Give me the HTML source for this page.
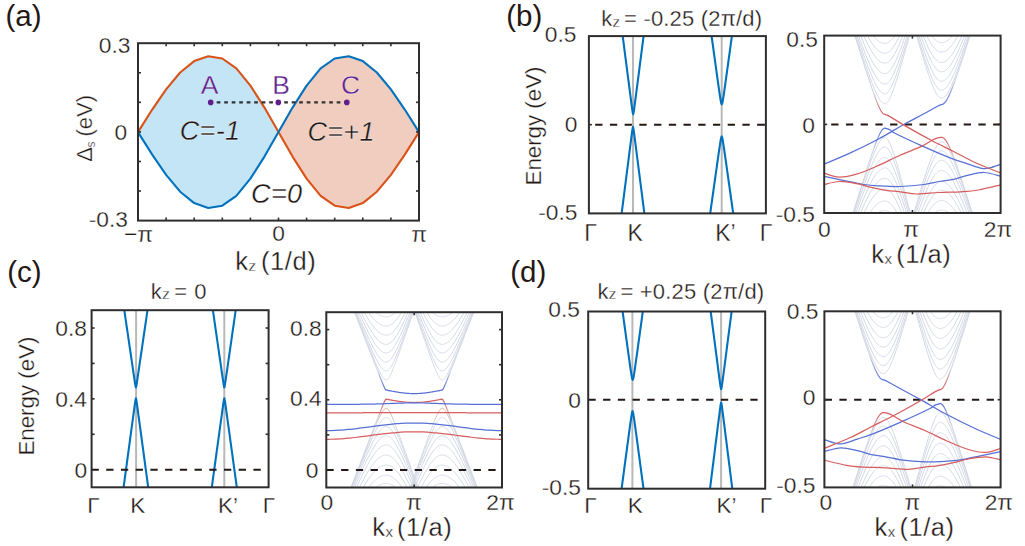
<!DOCTYPE html>
<html><head><meta charset="utf-8"><title>Figure</title>
<style>html,body{margin:0;padding:0;background:#fff;width:1025px;height:546px;overflow:hidden}svg{display:block}text{font-family:"Liberation Sans",sans-serif;stroke:#fff;stroke-width:0.3px}</style>
</head><body>
<svg width="1025" height="546" viewBox="0 0 1025 546">
<rect width="1025" height="546" fill="#fff"/>
<polygon points="138,132.1 152.05,109.8 166.1,89.4 180.15,72.5 194.2,61.1 208.25,56.2 222.3,58.5 236.35,68.4 250.4,85.6 264.45,107.6 278.5,132.1 278.5,132.1 264.45,156.6 250.4,178.6 236.35,195.8 222.3,205.7 208.25,208 194.2,203.1 180.15,191.7 166.1,174.8 152.05,154.4 138,132.1" fill="#C3E5F6"/>
<polygon points="278.5,132.1 292.55,107.6 306.6,85.6 320.65,68.4 334.7,58.5 348.75,56.2 362.8,61.1 376.85,72.5 390.9,89.4 404.95,109.8 419,132.1 419,132.1 404.95,154.4 390.9,174.8 376.85,191.7 362.8,203.1 348.75,208 334.7,205.7 320.65,195.8 306.6,178.6 292.55,156.6 278.5,132.1" fill="#F0CDBE"/>
<polyline points="138,132.1 152.05,109.8 166.1,89.4 180.15,72.5 194.2,61.1 208.25,56.2 222.3,58.5 236.35,68.4 250.4,85.6 264.45,107.6 278.5,132.1 292.55,156.6 306.6,178.6 320.65,195.8 334.7,205.7 348.75,208 362.8,203.1 376.85,191.7 390.9,174.8 404.95,154.4 419,132.1" fill="none" stroke="#D95319" stroke-width="2.1" stroke-linejoin="round"/>
<polyline points="138,132.1 152.05,154.4 166.1,174.8 180.15,191.7 194.2,203.1 208.25,208 222.3,205.7 236.35,195.8 250.4,178.6 264.45,156.6 278.5,132.1 292.55,107.6 306.6,85.6 320.65,68.4 334.7,58.5 348.75,56.2 362.8,61.1 376.85,72.5 390.9,89.4 404.95,109.8 419,132.1" fill="none" stroke="#0072BD" stroke-width="2.1" stroke-linejoin="round"/>
<line x1="138" y1="72.77" x2="141" y2="72.77" stroke="#2e2e2e" stroke-width="1.6" />
<line x1="419" y1="72.77" x2="416" y2="72.77" stroke="#2e2e2e" stroke-width="1.6" />
<line x1="138" y1="102.33" x2="141" y2="102.33" stroke="#2e2e2e" stroke-width="1.6" />
<line x1="419" y1="102.33" x2="416" y2="102.33" stroke="#2e2e2e" stroke-width="1.6" />
<line x1="138" y1="131.9" x2="141" y2="131.9" stroke="#2e2e2e" stroke-width="1.6" />
<line x1="419" y1="131.9" x2="416" y2="131.9" stroke="#2e2e2e" stroke-width="1.6" />
<line x1="138" y1="161.47" x2="141" y2="161.47" stroke="#2e2e2e" stroke-width="1.6" />
<line x1="419" y1="161.47" x2="416" y2="161.47" stroke="#2e2e2e" stroke-width="1.6" />
<line x1="138" y1="191.03" x2="141" y2="191.03" stroke="#2e2e2e" stroke-width="1.6" />
<line x1="419" y1="191.03" x2="416" y2="191.03" stroke="#2e2e2e" stroke-width="1.6" />
<line x1="166.1" y1="43.2" x2="166.1" y2="46.2" stroke="#2e2e2e" stroke-width="1.6" />
<line x1="166.1" y1="220.6" x2="166.1" y2="217.6" stroke="#2e2e2e" stroke-width="1.6" />
<line x1="194.2" y1="43.2" x2="194.2" y2="46.2" stroke="#2e2e2e" stroke-width="1.6" />
<line x1="194.2" y1="220.6" x2="194.2" y2="217.6" stroke="#2e2e2e" stroke-width="1.6" />
<line x1="222.3" y1="43.2" x2="222.3" y2="46.2" stroke="#2e2e2e" stroke-width="1.6" />
<line x1="222.3" y1="220.6" x2="222.3" y2="217.6" stroke="#2e2e2e" stroke-width="1.6" />
<line x1="250.4" y1="43.2" x2="250.4" y2="46.2" stroke="#2e2e2e" stroke-width="1.6" />
<line x1="250.4" y1="220.6" x2="250.4" y2="217.6" stroke="#2e2e2e" stroke-width="1.6" />
<line x1="278.5" y1="43.2" x2="278.5" y2="46.2" stroke="#2e2e2e" stroke-width="1.6" />
<line x1="278.5" y1="220.6" x2="278.5" y2="217.6" stroke="#2e2e2e" stroke-width="1.6" />
<line x1="306.6" y1="43.2" x2="306.6" y2="46.2" stroke="#2e2e2e" stroke-width="1.6" />
<line x1="306.6" y1="220.6" x2="306.6" y2="217.6" stroke="#2e2e2e" stroke-width="1.6" />
<line x1="334.7" y1="43.2" x2="334.7" y2="46.2" stroke="#2e2e2e" stroke-width="1.6" />
<line x1="334.7" y1="220.6" x2="334.7" y2="217.6" stroke="#2e2e2e" stroke-width="1.6" />
<line x1="362.8" y1="43.2" x2="362.8" y2="46.2" stroke="#2e2e2e" stroke-width="1.6" />
<line x1="362.8" y1="220.6" x2="362.8" y2="217.6" stroke="#2e2e2e" stroke-width="1.6" />
<line x1="390.9" y1="43.2" x2="390.9" y2="46.2" stroke="#2e2e2e" stroke-width="1.6" />
<line x1="390.9" y1="220.6" x2="390.9" y2="217.6" stroke="#2e2e2e" stroke-width="1.6" />
<rect x="138" y="43.2" width="281" height="177.4" fill="none" stroke="#2e2e2e" stroke-width="2.0"/>
<line x1="210.7" y1="102.4" x2="346.8" y2="102.4" stroke="#333" stroke-width="2.4" stroke-dasharray="3.7 3.8" stroke-dashoffset="-6"/>
<circle cx="210.7" cy="102.4" r="2.8" fill="#5F1E8C"/>
<circle cx="278.3" cy="102.4" r="2.8" fill="#5F1E8C"/>
<circle cx="346.8" cy="102.4" r="2.8" fill="#5F1E8C"/>
<text x="209.5" y="93.8" font-size="26.5" text-anchor="middle" fill="#5F1E8C" font-family="Liberation Sans" >A</text>
<text x="281.2" y="93.6" font-size="26.5" text-anchor="middle" fill="#5F1E8C" font-family="Liberation Sans" >B</text>
<text x="350.5" y="94" font-size="26.5" text-anchor="middle" fill="#5F1E8C" font-family="Liberation Sans" >C</text>
<text x="179.8" y="140" font-size="27" text-anchor="start" fill="#231815" font-family="Liberation Sans" font-style="italic" letter-spacing="0.3">C=-1</text>
<text x="307.5" y="141.2" font-size="27" text-anchor="start" fill="#231815" font-family="Liberation Sans" font-style="italic" letter-spacing="0.3">C=+1</text>
<text x="251.1" y="203.4" font-size="27" text-anchor="start" fill="#231815" font-family="Liberation Sans" font-style="italic" letter-spacing="0.3">C=0</text>
<text x="130.5" y="53.4" font-size="22.8" text-anchor="end" fill="#231815" font-family="Liberation Sans" >0.3</text>
<text x="127.3" y="140" font-size="22.8" text-anchor="end" fill="#231815" font-family="Liberation Sans" >0</text>
<text x="128" y="226.9" font-size="22.8" text-anchor="end" fill="#231815" font-family="Liberation Sans" >-0.3</text>
<text x="138.5" y="241.5" font-size="22.8" text-anchor="middle" fill="#231815" font-family="Liberation Sans" >&#8722;&#960;</text>
<text x="278.5" y="241.3" font-size="22.8" text-anchor="middle" fill="#231815" font-family="Liberation Sans" >0</text>
<text x="419" y="241.5" font-size="22.8" text-anchor="middle" fill="#231815" font-family="Liberation Sans" >&#960;</text>
<text x="235.2" y="270.4" font-size="25.5" letter-spacing="0.55" fill="#231815" font-family="Liberation Sans">k<tspan font-size="15" dy="1">z</tspan><tspan dy="-1" dx="4.5">(1/d)</tspan></text>
<text transform="translate(92.2,128.3) rotate(-90)" x="0" y="0" font-size="22" text-anchor="middle" fill="#231815" font-family="Liberation Sans">&#916;<tspan font-size="12" dy="3.2" dx="-0.5">s</tspan><tspan dy="-3.2" dx="5">(eV)</tspan></text>
<text x="5.5" y="26" font-size="29.5" text-anchor="start" fill="#231815" font-family="Liberation Sans" style="stroke:none">(a)</text>
<clipPath id="cbl"><rect x="588.9" y="36.1" width="177.0" height="177.3"/></clipPath>
<g clip-path="url(#cbl)">
<line x1="588.9" y1="124.7" x2="765.9" y2="124.7" stroke="#231815" stroke-width="2" stroke-dasharray="7.3 7.42" stroke-dashoffset="8.42"/>
<line x1="633" y1="36.1" x2="633" y2="213.4" stroke="#B8B8B8" stroke-width="2" />
<line x1="721.7" y1="36.1" x2="721.7" y2="213.4" stroke="#B8B8B8" stroke-width="2" />
<polyline points="622.7,36.1 623.22,40.15 623.75,44.2 624.27,48.25 624.79,52.3 625.31,56.34 625.83,60.39 626.36,64.44 626.88,68.48 627.4,72.52 627.92,76.57 628.45,80.61 628.97,84.64 629.49,88.68 630.01,92.7 630.54,96.72 631.06,100.72 631.58,104.68 632.11,108.56 632.63,112.16 633.15,114.2 633.67,112.16 634.19,108.56 634.72,104.68 635.24,100.72 635.76,96.72 636.28,92.7 636.81,88.68 637.33,84.64 637.85,80.61 638.38,76.57 638.9,72.52 639.42,68.48 639.94,64.44 640.46,60.39 640.99,56.34 641.51,52.3 642.03,48.25 642.55,44.2 643.08,40.15 643.6,36.1" fill="none" stroke="#0072BD" stroke-width="2.1" stroke-linejoin="round"/>
<polyline points="621.65,213.4 622.22,208.95 622.78,204.51 623.35,200.06 623.92,195.62 624.49,191.17 625.05,186.73 625.62,182.28 626.19,177.84 626.76,173.39 627.33,168.95 627.89,164.51 628.46,160.07 629.03,155.64 629.6,151.21 630.16,146.78 630.73,142.37 631.3,137.98 631.87,133.64 632.43,129.5 633,126.9 633.57,129.5 634.13,133.64 634.7,137.98 635.27,142.37 635.84,146.78 636.4,151.21 636.97,155.64 637.54,160.07 638.11,164.51 638.67,168.95 639.24,173.39 639.81,177.84 640.38,182.28 640.95,186.73 641.51,191.17 642.08,195.62 642.65,200.06 643.22,204.51 643.78,208.95 644.35,213.4" fill="none" stroke="#0072BD" stroke-width="2.1" stroke-linejoin="round"/>
<polyline points="711.6,36.1 712.11,39.79 712.62,43.47 713.12,47.15 713.63,50.83 714.14,54.51 714.64,58.18 715.15,61.85 715.66,65.52 716.17,69.18 716.67,72.84 717.18,76.48 717.69,80.11 718.2,83.73 718.71,87.32 719.21,90.86 719.72,94.34 720.23,97.69 720.74,100.78 721.24,103.25 721.75,104.3 722.26,103.25 722.76,100.78 723.27,97.69 723.78,94.34 724.29,90.86 724.79,87.32 725.3,83.73 725.81,80.11 726.32,76.48 726.83,72.84 727.33,69.18 727.84,65.52 728.35,61.85 728.86,58.18 729.36,54.51 729.87,50.83 730.38,47.15 730.88,43.47 731.39,39.79 731.9,36.1" fill="none" stroke="#0072BD" stroke-width="2.1" stroke-linejoin="round"/>
<polyline points="710.2,213.4 710.78,209.32 711.35,205.23 711.93,201.15 712.5,197.07 713.08,192.99 713.65,188.91 714.23,184.84 714.8,180.76 715.38,176.69 715.95,172.63 716.53,168.57 717.1,164.52 717.68,160.48 718.25,156.46 718.83,152.46 719.4,148.52 719.98,144.66 720.55,140.99 721.12,137.86 721.7,136.4 722.28,137.86 722.85,140.99 723.43,144.66 724,148.52 724.58,152.46 725.15,156.46 725.73,160.48 726.3,164.52 726.88,168.57 727.45,172.63 728.03,176.69 728.6,180.76 729.18,184.84 729.75,188.91 730.33,192.99 730.9,197.07 731.48,201.15 732.05,205.23 732.62,209.32 733.2,213.4" fill="none" stroke="#0072BD" stroke-width="2.1" stroke-linejoin="round"/>
</g>
<line x1="588.9" y1="124.7" x2="591.9" y2="124.7" stroke="#2e2e2e" stroke-width="1.6" />
<line x1="765.9" y1="124.7" x2="762.9" y2="124.7" stroke="#2e2e2e" stroke-width="1.6" />
<rect x="588.9" y="36.1" width="177" height="177.3" fill="none" stroke="#2e2e2e" stroke-width="2.0"/>
<text x="576.5" y="42" font-size="22.8" text-anchor="end" fill="#231815" font-family="Liberation Sans" >0.5</text>
<text x="577.5" y="132" font-size="22.8" text-anchor="end" fill="#231815" font-family="Liberation Sans" >0</text>
<text x="577.5" y="220.3" font-size="22.8" text-anchor="end" fill="#231815" font-family="Liberation Sans" >-0.5</text>
<text x="590.5" y="240.7" font-size="23" text-anchor="middle" fill="#231815" font-family="Liberation Sans" >&#915;</text>
<text x="635.2" y="240.7" font-size="23" text-anchor="middle" fill="#231815" font-family="Liberation Sans" >K</text>
<text x="725.5" y="240.7" font-size="23" text-anchor="middle" fill="#231815" font-family="Liberation Sans" >K&#8217;</text>
<text x="766" y="240.7" font-size="23" text-anchor="middle" fill="#231815" font-family="Liberation Sans" >&#915;</text>
<text x="601.2" y="26.2" font-size="22" letter-spacing="0.18" fill="#231815" font-family="Liberation Sans">k<tspan font-size="15" dy="0.5">z</tspan><tspan dy="-0.5" dx="4">= -0.25 (2&#960;/d)</tspan></text>
<text transform="translate(540.5,126) rotate(-90)" x="0" y="0" font-size="22.3" text-anchor="middle" fill="#231815" font-family="Liberation Sans">Energy (eV)</text>
<text x="506.2" y="26" font-size="29.5" text-anchor="start" fill="#231815" font-family="Liberation Sans" style="stroke:none">(b)</text>
<clipPath id="cbr"><rect x="824.2" y="35.6" width="176.39999999999998" height="177.4"/></clipPath>
<g clip-path="url(#cbr)">
<polyline points="855.72,35.6 857.97,42.5 860.06,48.83 862,54.64 863.79,59.96 865.46,64.83 867,69.28 868.44,73.33 869.77,77.02 871.01,80.37 872.17,83.41 873.25,86.15 874.26,88.62 875.2,90.84 876.08,92.82 876.91,94.59 877.69,96.15 878.43,97.53 879.13,98.74 879.79,99.79 880.42,100.69 881.03,101.46 881.61,102.11 882.17,102.64 882.72,103.07 883.25,103.39 883.77,103.62 884.29,103.76 884.8,103.8 885.24,103.76 885.68,103.62 886.12,103.39 886.57,103.07 887.04,102.64 887.51,102.11 888.01,101.46 888.52,100.69 889.06,99.79 889.62,98.74 890.21,97.53 890.84,96.15 891.5,94.59 892.21,92.82 892.96,90.84 893.76,88.62 894.62,86.15 895.53,83.41 896.52,80.37 897.57,77.02 898.71,73.33 899.93,69.28 901.24,64.83 902.66,59.96 904.18,54.64 905.83,48.83 907.61,42.5 909.52,35.6" fill="none" stroke="#D3D8E5" stroke-width="1.0" stroke-linejoin="round"/>
<polyline points="856.91,35.6 859.08,41.92 861.08,47.69 862.93,52.94 864.66,57.71 866.25,62.03 867.73,65.94 869.11,69.47 870.39,72.64 871.58,75.49 872.69,78.03 873.73,80.29 874.69,82.3 875.6,84.08 876.44,85.65 877.24,87.02 877.99,88.22 878.69,89.26 879.36,90.16 880,90.94 880.6,91.6 881.18,92.15 881.74,92.61 882.28,92.99 882.8,93.29 883.31,93.52 883.81,93.67 884.31,93.77 884.8,93.8 885.22,93.77 885.64,93.67 886.07,93.52 886.5,93.29 886.94,92.99 887.4,92.61 887.87,92.15 888.37,91.6 888.88,90.94 889.42,90.16 889.99,89.26 890.59,88.22 891.23,87.02 891.9,85.65 892.62,84.08 893.39,82.3 894.21,80.29 895.09,78.03 896.03,75.49 897.05,72.64 898.13,69.47 899.31,65.94 900.57,62.03 901.92,57.71 903.39,52.94 904.96,47.69 906.67,41.92 908.5,35.6" fill="none" stroke="#D3D8E5" stroke-width="1.0" stroke-linejoin="round"/>
<polyline points="858.47,35.6 860.51,41.21 862.4,46.29 864.16,50.88 865.78,55.01 867.29,58.71 868.69,62.03 869.99,64.98 871.2,67.61 872.32,69.94 873.37,72 874.35,73.82 875.26,75.41 876.11,76.8 876.91,78.01 877.66,79.07 878.37,79.98 879.04,80.76 879.67,81.44 880.27,82.01 880.84,82.5 881.38,82.9 881.91,83.24 882.42,83.52 882.91,83.73 883.39,83.9 883.87,84.01 884.34,84.08 884.8,84.1 885.19,84.08 885.59,84.01 885.99,83.9 886.4,83.73 886.82,83.52 887.26,83.24 887.7,82.9 888.17,82.5 888.65,82.01 889.16,81.44 889.7,80.76 890.27,79.98 890.87,79.07 891.51,78.01 892.19,76.8 892.91,75.41 893.69,73.82 894.52,72 895.41,69.94 896.36,67.61 897.39,64.98 898.49,62.03 899.68,58.71 900.97,55.01 902.35,50.88 903.84,46.29 905.44,41.21 907.18,35.6" fill="none" stroke="#D3D8E5" stroke-width="1.0" stroke-linejoin="round"/>
<polyline points="860.67,35.6 862.54,40.29 864.27,44.5 865.88,48.26 867.37,51.6 868.75,54.57 870.03,57.2 871.22,59.51 872.33,61.55 873.36,63.34 874.32,64.9 875.22,66.26 876.05,67.45 876.83,68.47 877.57,69.36 878.26,70.12 878.9,70.78 879.52,71.35 880.09,71.83 880.64,72.23 881.17,72.58 881.67,72.86 882.15,73.1 882.62,73.29 883.07,73.44 883.51,73.56 883.95,73.64 884.37,73.68 884.8,73.7 885.16,73.68 885.53,73.64 885.89,73.56 886.27,73.44 886.66,73.29 887.05,73.1 887.46,72.86 887.89,72.58 888.33,72.23 888.8,71.83 889.29,71.35 889.81,70.78 890.36,70.12 890.95,69.36 891.57,68.47 892.24,67.45 892.95,66.26 893.71,64.9 894.52,63.34 895.4,61.55 896.34,59.51 897.35,57.2 898.44,54.57 899.62,51.6 900.89,48.26 902.25,44.5 903.72,40.29 905.31,35.6" fill="none" stroke="#D3D8E5" stroke-width="1.0" stroke-linejoin="round"/>
<polyline points="863.63,35.6 865.27,39.19 866.79,42.37 868.2,45.18 869.5,47.66 870.72,49.82 871.84,51.72 872.89,53.38 873.86,54.82 874.76,56.08 875.61,57.16 876.39,58.1 877.13,58.91 877.81,59.61 878.45,60.21 879.06,60.73 879.63,61.17 880.16,61.54 880.67,61.86 881.15,62.13 881.61,62.36 882.05,62.55 882.48,62.71 882.89,62.83 883.28,62.93 883.67,63.01 884.05,63.06 884.43,63.09 884.8,63.1 885.12,63.09 885.44,63.06 885.76,63.01 886.09,62.93 886.43,62.83 886.77,62.71 887.13,62.55 887.51,62.36 887.9,62.13 888.31,61.86 888.74,61.54 889.2,61.17 889.68,60.73 890.19,60.21 890.74,59.61 891.32,58.91 891.95,58.1 892.61,57.16 893.33,56.08 894.1,54.82 894.93,53.38 895.81,51.72 896.77,49.82 897.8,47.66 898.91,45.18 900.11,42.37 901.4,39.19 902.8,35.6" fill="none" stroke="#D3D8E5" stroke-width="1.0" stroke-linejoin="round"/>
<polyline points="867.37,35.6 868.73,38.02 869.98,40.14 871.14,41.98 872.21,43.59 873.21,44.99 874.14,46.2 875,47.24 875.8,48.15 876.54,48.93 877.23,49.6 877.88,50.18 878.48,50.68 879.05,51.1 879.58,51.47 880.08,51.78 880.54,52.04 880.98,52.27 881.4,52.46 881.8,52.62 882.18,52.76 882.54,52.87 882.89,52.97 883.22,53.04 883.55,53.1 883.87,53.14 884.18,53.18 884.49,53.19 884.8,53.2 885.06,53.19 885.32,53.18 885.59,53.14 885.86,53.1 886.14,53.04 886.43,52.97 886.72,52.87 887.03,52.76 887.35,52.62 887.69,52.46 888.04,52.27 888.42,52.04 888.82,51.78 889.24,51.47 889.69,51.1 890.17,50.68 890.68,50.18 891.23,49.6 891.82,48.93 892.45,48.15 893.13,47.24 893.86,46.2 894.65,44.99 895.5,43.59 896.41,41.98 897.4,40.14 898.46,38.02 899.61,35.6" fill="none" stroke="#D3D8E5" stroke-width="1.0" stroke-linejoin="round"/>
<polyline points="872.89,35.6 873.81,36.72 874.67,37.69 875.46,38.53 876.19,39.25 876.88,39.87 877.51,40.4 878.1,40.86 878.65,41.25 879.15,41.59 879.63,41.88 880.07,42.13 880.48,42.34 880.87,42.52 881.23,42.67 881.57,42.8 881.89,42.92 882.19,43.01 882.48,43.09 882.75,43.16 883.01,43.22 883.25,43.26 883.49,43.3 883.72,43.33 883.95,43.36 884.16,43.38 884.38,43.39 884.59,43.4 884.8,43.4 884.98,43.4 885.16,43.39 885.34,43.38 885.53,43.36 885.72,43.33 885.91,43.3 886.11,43.26 886.32,43.22 886.54,43.16 886.77,43.09 887.02,43.01 887.27,42.92 887.55,42.8 887.83,42.67 888.14,42.52 888.47,42.34 888.82,42.13 889.2,41.88 889.6,41.59 890.03,41.25 890.5,40.86 891,40.4 891.53,39.87 892.11,39.25 892.74,38.53 893.41,37.69 894.14,36.72 894.93,35.6" fill="none" stroke="#D3D8E5" stroke-width="1.0" stroke-linejoin="round"/>
<polyline points="916.58,35.6 918.51,42.2 920.3,48.24 921.96,53.76 923.5,58.79 924.92,63.37 926.25,67.54 927.48,71.31 928.62,74.72 929.69,77.8 930.68,80.57 931.6,83.05 932.47,85.26 933.27,87.24 934.03,88.98 934.74,90.52 935.41,91.88 936.04,93.06 936.64,94.09 937.21,94.98 937.75,95.74 938.27,96.38 938.77,96.92 939.25,97.35 939.71,97.7 940.17,97.97 940.62,98.15 941.06,98.26 941.5,98.3 941.99,98.26 942.48,98.15 942.98,97.97 943.49,97.7 944.01,97.35 944.55,96.92 945.1,96.38 945.68,95.74 946.28,94.98 946.92,94.09 947.58,93.06 948.29,91.88 949.03,90.52 949.83,88.98 950.67,87.24 951.57,85.26 952.53,83.05 953.56,80.57 954.67,77.8 955.86,74.72 957.13,71.31 958.5,67.54 959.98,63.37 961.57,58.79 963.29,53.76 965.14,48.24 967.13,42.2 969.29,35.6" fill="none" stroke="#D3D8E5" stroke-width="1.0" stroke-linejoin="round"/>
<polyline points="917.54,35.6 919.4,41.68 921.12,47.22 922.71,52.24 924.19,56.79 925.56,60.9 926.84,64.6 928.02,67.93 929.12,70.91 930.14,73.57 931.1,75.93 931.99,78.03 932.82,79.89 933.59,81.52 934.32,82.95 935,84.21 935.65,85.29 936.25,86.24 936.83,87.05 937.37,87.75 937.89,88.34 938.39,88.83 938.87,89.25 939.33,89.58 939.78,89.85 940.22,90.05 940.65,90.19 941.08,90.27 941.5,90.3 941.97,90.27 942.45,90.19 942.93,90.05 943.41,89.85 943.92,89.58 944.43,89.25 944.96,88.83 945.52,88.34 946.1,87.75 946.71,87.05 947.35,86.24 948.03,85.29 948.74,84.21 949.5,82.95 950.32,81.52 951.18,79.89 952.11,78.03 953.1,75.93 954.16,73.57 955.3,70.91 956.53,67.93 957.85,64.6 959.27,60.9 960.79,56.79 962.44,52.24 964.22,47.22 966.14,41.68 968.21,35.6" fill="none" stroke="#D3D8E5" stroke-width="1.0" stroke-linejoin="round"/>
<polyline points="918.92,35.6 920.67,40.98 922.29,45.84 923.8,50.21 925.19,54.14 926.48,57.65 927.68,60.78 928.8,63.57 929.83,66.04 930.8,68.23 931.7,70.15 932.53,71.84 933.32,73.31 934.05,74.6 934.73,75.72 935.38,76.69 935.98,77.53 936.56,78.25 937.1,78.87 937.61,79.4 938.1,79.84 938.57,80.21 939.02,80.52 939.46,80.77 939.88,80.97 940.29,81.11 940.7,81.22 941.1,81.28 941.5,81.3 941.94,81.28 942.39,81.22 942.84,81.11 943.3,80.97 943.78,80.77 944.26,80.52 944.77,80.21 945.29,79.84 945.83,79.4 946.41,78.87 947.01,78.25 947.65,77.53 948.33,76.69 949.04,75.72 949.81,74.6 950.62,73.31 951.5,71.84 952.43,70.15 953.43,68.23 954.51,66.04 955.66,63.57 956.9,60.78 958.24,57.65 959.68,54.14 961.24,50.21 962.91,45.84 964.72,40.98 966.67,35.6" fill="none" stroke="#D3D8E5" stroke-width="1.0" stroke-linejoin="round"/>
<polyline points="920.79,35.6 922.39,40.11 923.88,44.14 925.26,47.73 926.54,50.93 927.72,53.76 928.82,56.25 929.85,58.45 930.8,60.38 931.68,62.07 932.51,63.55 933.27,64.83 933.99,65.94 934.66,66.91 935.29,67.74 935.88,68.46 936.44,69.07 936.96,69.6 937.46,70.05 937.93,70.43 938.38,70.75 938.81,71.02 939.23,71.24 939.63,71.42 940.02,71.56 940.39,71.67 940.77,71.74 941.13,71.79 941.5,71.8 941.91,71.79 942.32,71.74 942.73,71.67 943.16,71.56 943.59,71.42 944.03,71.24 944.5,71.02 944.98,70.75 945.48,70.43 946,70.05 946.56,69.6 947.14,69.07 947.76,68.46 948.42,67.74 949.12,66.91 949.87,65.94 950.67,64.83 951.53,63.55 952.45,62.07 953.43,60.38 954.49,58.45 955.63,56.25 956.86,53.76 958.18,50.93 959.61,47.73 961.14,44.14 962.8,40.11 964.59,35.6" fill="none" stroke="#D3D8E5" stroke-width="1.0" stroke-linejoin="round"/>
<polyline points="923.14,35.6 924.56,39.13 925.88,42.25 927.1,45 928.23,47.42 929.29,49.54 930.26,51.4 931.17,53.02 932.01,54.43 932.8,55.65 933.53,56.71 934.21,57.63 934.84,58.42 935.44,59.1 936,59.69 936.52,60.19 937.01,60.62 937.48,60.98 937.92,61.3 938.34,61.56 938.74,61.78 939.12,61.96 939.48,62.12 939.84,62.24 940.18,62.34 940.52,62.41 940.85,62.46 941.18,62.49 941.5,62.5 941.86,62.49 942.22,62.46 942.59,62.41 942.97,62.34 943.35,62.24 943.75,62.12 944.16,61.96 944.58,61.78 945.03,61.56 945.49,61.3 945.98,60.98 946.5,60.62 947.05,60.19 947.63,59.69 948.26,59.1 948.92,58.42 949.63,57.63 950.39,56.71 951.2,55.65 952.08,54.43 953.02,53.02 954.03,51.4 955.12,49.54 956.29,47.42 957.55,45 958.91,42.25 960.39,39.13 961.97,35.6" fill="none" stroke="#D3D8E5" stroke-width="1.0" stroke-linejoin="round"/>
<polyline points="926.69,35.6 927.83,37.88 928.9,39.87 929.88,41.61 930.8,43.12 931.65,44.43 932.43,45.56 933.17,46.54 933.85,47.39 934.48,48.12 935.07,48.75 935.62,49.29 936.13,49.75 936.61,50.15 937.06,50.49 937.48,50.78 937.88,51.02 938.26,51.23 938.61,51.41 938.95,51.56 939.27,51.69 939.58,51.8 939.87,51.88 940.16,51.95 940.44,52.01 940.71,52.05 940.98,52.08 941.24,52.09 941.5,52.1 941.79,52.09 942.08,52.08 942.38,52.05 942.68,52.01 942.99,51.95 943.31,51.88 943.64,51.8 943.99,51.69 944.34,51.56 944.72,51.41 945.12,51.23 945.53,51.02 945.98,50.78 946.45,50.49 946.95,50.15 947.49,49.75 948.06,49.29 948.67,48.75 949.33,48.12 950.03,47.39 950.79,46.54 951.61,45.56 952.48,44.43 953.43,43.12 954.45,41.61 955.55,39.87 956.73,37.88 958.01,35.6" fill="none" stroke="#D3D8E5" stroke-width="1.0" stroke-linejoin="round"/>
<polyline points="931.6,35.6 932.37,36.61 933.08,37.48 933.74,38.24 934.35,38.88 934.92,39.44 935.44,39.92 935.93,40.33 936.39,40.68 936.81,40.98 937.2,41.24 937.57,41.46 937.91,41.65 938.23,41.81 938.53,41.95 938.82,42.07 939.08,42.17 939.33,42.25 939.57,42.32 939.8,42.38 940.01,42.44 940.22,42.48 940.41,42.51 940.6,42.54 940.79,42.56 940.97,42.58 941.15,42.59 941.33,42.6 941.5,42.6 941.69,42.6 941.89,42.59 942.09,42.58 942.29,42.56 942.5,42.54 942.71,42.51 942.93,42.48 943.16,42.44 943.4,42.38 943.65,42.32 943.92,42.25 944.2,42.17 944.49,42.07 944.81,41.95 945.14,41.81 945.5,41.65 945.88,41.46 946.29,41.24 946.73,40.98 947.2,40.68 947.71,40.33 948.25,39.92 948.84,39.44 949.47,38.88 950.15,38.24 950.89,37.48 951.68,36.61 952.54,35.6" fill="none" stroke="#D3D8E5" stroke-width="1.0" stroke-linejoin="round"/>
<polyline points="853.42,213 855.85,205.46 858.1,198.53 860.19,192.17 862.13,186.33 863.93,180.98 865.6,176.09 867.14,171.62 868.59,167.54 869.93,163.83 871.17,160.46 872.34,157.4 873.43,154.64 874.44,152.16 875.4,149.93 876.29,147.94 877.13,146.17 877.93,144.61 878.68,143.23 879.4,142.03 880.08,140.99 880.73,140.11 881.36,139.36 881.96,138.74 882.55,138.25 883.12,137.87 883.69,137.61 884.25,137.45 884.8,137.4 885.25,137.45 885.7,137.61 886.16,137.87 886.63,138.25 887.11,138.74 887.6,139.36 888.11,140.11 888.64,140.99 889.19,142.03 889.77,143.23 890.38,144.61 891.03,146.17 891.71,147.94 892.44,149.93 893.22,152.16 894.04,154.64 894.93,157.4 895.87,160.46 896.89,163.83 897.97,167.54 899.14,171.62 900.4,176.09 901.76,180.98 903.22,186.33 904.79,192.17 906.49,198.53 908.32,205.46 910.3,213" fill="none" stroke="#D3D8E5" stroke-width="1.0" stroke-linejoin="round"/>
<polyline points="854.47,213 856.82,205.98 859,199.56 861.02,193.7 862.89,188.36 864.63,183.51 866.24,179.11 867.74,175.13 869.13,171.53 870.43,168.29 871.63,165.39 872.76,162.79 873.81,160.48 874.79,158.42 875.71,156.61 876.58,155.01 877.39,153.6 878.16,152.38 878.89,151.32 879.58,150.41 880.24,149.63 880.87,148.97 881.47,148.42 882.06,147.97 882.63,147.61 883.18,147.34 883.73,147.15 884.26,147.04 884.8,147 885.23,147.04 885.67,147.15 886.12,147.34 886.57,147.61 887.03,147.97 887.5,148.42 888,148.97 888.51,149.63 889.04,150.41 889.6,151.32 890.2,152.38 890.82,153.6 891.48,155.01 892.18,156.61 892.93,158.42 893.73,160.48 894.58,162.79 895.5,165.39 896.48,168.29 897.53,171.53 898.66,175.13 899.88,179.11 901.19,183.51 902.6,188.36 904.12,193.7 905.76,199.56 907.53,205.98 909.44,213" fill="none" stroke="#D3D8E5" stroke-width="1.0" stroke-linejoin="round"/>
<polyline points="856,213 858.23,206.69 860.3,200.96 862.22,195.78 863.99,191.1 865.64,186.88 867.17,183.1 868.6,179.71 869.92,176.69 871.15,174 872.29,171.61 873.36,169.51 874.36,167.65 875.29,166.03 876.17,164.61 876.99,163.37 877.76,162.29 878.49,161.37 879.18,160.57 879.84,159.89 880.47,159.31 881.06,158.83 881.64,158.42 882.2,158.1 882.74,157.84 883.26,157.64 883.78,157.51 884.29,157.43 884.8,157.4 885.21,157.43 885.63,157.51 886.05,157.64 886.48,157.84 886.92,158.1 887.37,158.42 887.84,158.83 888.32,159.31 888.83,159.89 889.36,160.57 889.92,161.37 890.52,162.29 891.15,163.37 891.81,164.61 892.52,166.03 893.28,167.65 894.09,169.51 894.96,171.61 895.89,174 896.89,176.69 897.97,179.71 899.12,183.1 900.36,186.88 901.7,191.1 903.15,195.78 904.71,200.96 906.39,206.69 908.2,213" fill="none" stroke="#D3D8E5" stroke-width="1.0" stroke-linejoin="round"/>
<polyline points="858.01,213 860.09,207.56 862.01,202.67 863.79,198.29 865.45,194.37 866.98,190.87 868.41,187.77 869.73,185.02 870.96,182.6 872.1,180.46 873.17,178.59 874.16,176.95 875.09,175.52 875.96,174.28 876.77,173.21 877.54,172.28 878.25,171.47 878.93,170.79 879.58,170.2 880.19,169.7 880.77,169.28 881.32,168.93 881.86,168.64 882.38,168.4 882.88,168.22 883.37,168.08 883.85,167.98 884.33,167.92 884.8,167.9 885.18,167.92 885.57,167.98 885.96,168.08 886.36,168.22 886.77,168.4 887.19,168.64 887.62,168.93 888.08,169.28 888.55,169.7 889.04,170.2 889.57,170.79 890.12,171.47 890.7,172.28 891.32,173.21 891.98,174.28 892.69,175.52 893.44,176.95 894.25,178.59 895.12,180.46 896.05,182.6 897.05,185.02 898.12,187.77 899.28,190.87 900.52,194.37 901.87,198.29 903.32,202.67 904.88,207.56 906.57,213" fill="none" stroke="#D3D8E5" stroke-width="1.0" stroke-linejoin="round"/>
<polyline points="860.58,213 862.46,208.58 864.2,204.64 865.81,201.15 867.31,198.06 868.69,195.34 869.98,192.94 871.18,190.84 872.29,189 873.32,187.4 874.29,186.01 875.18,184.8 876.02,183.75 876.81,182.85 877.54,182.07 878.23,181.4 878.88,180.83 879.5,180.34 880.08,179.92 880.63,179.57 881.16,179.27 881.66,179.02 882.14,178.82 882.61,178.65 883.06,178.52 883.51,178.42 883.94,178.35 884.37,178.31 884.8,178.3 885.15,178.31 885.5,178.35 885.85,178.42 886.21,178.52 886.58,178.65 886.96,178.82 887.35,179.02 887.76,179.27 888.19,179.57 888.64,179.92 889.11,180.34 889.61,180.83 890.13,181.4 890.7,182.07 891.29,182.85 891.93,183.75 892.61,184.8 893.34,186.01 894.13,187.4 894.97,189 895.87,190.84 896.84,192.94 897.89,195.34 899.01,198.06 900.23,201.15 901.54,204.64 902.95,208.58 904.48,213" fill="none" stroke="#D3D8E5" stroke-width="1.0" stroke-linejoin="round"/>
<polyline points="863.99,213 865.6,209.75 867.1,206.9 868.48,204.39 869.77,202.19 870.96,200.28 872.07,198.61 873.09,197.16 874.05,195.9 874.94,194.82 875.76,193.88 876.54,193.07 877.26,192.37 877.93,191.77 878.56,191.26 879.16,190.82 879.72,190.44 880.24,190.12 880.74,189.85 881.22,189.62 881.67,189.43 882.1,189.27 882.52,189.13 882.92,189.03 883.31,188.94 883.69,188.88 884.06,188.83 884.43,188.81 884.8,188.8 885.1,188.81 885.4,188.83 885.7,188.88 886.01,188.94 886.33,189.03 886.66,189.13 886.99,189.27 887.34,189.43 887.71,189.62 888.1,189.85 888.5,190.12 888.93,190.44 889.38,190.82 889.87,191.26 890.38,191.77 890.93,192.37 891.51,193.07 892.14,193.88 892.81,194.82 893.54,195.9 894.31,197.16 895.15,198.61 896.05,200.28 897.01,202.19 898.06,204.39 899.18,206.9 900.4,209.75 901.71,213" fill="none" stroke="#D3D8E5" stroke-width="1.0" stroke-linejoin="round"/>
<polyline points="869.68,213 870.85,211.3 871.94,209.82 872.95,208.54 873.88,207.44 874.74,206.49 875.55,205.66 876.29,204.96 876.99,204.35 877.63,203.82 878.24,203.38 878.8,202.99 879.32,202.66 879.81,202.38 880.27,202.14 880.7,201.93 881.11,201.76 881.49,201.61 881.85,201.48 882.2,201.38 882.52,201.29 882.84,201.21 883.14,201.15 883.43,201.1 883.72,201.07 883.99,201.04 884.26,201.02 884.53,201 884.8,201 885.02,201 885.23,201.02 885.46,201.04 885.68,201.07 885.91,201.1 886.15,201.15 886.39,201.21 886.65,201.29 886.92,201.38 887.2,201.48 887.49,201.61 887.8,201.76 888.13,201.93 888.48,202.14 888.85,202.38 889.25,202.66 889.68,202.99 890.13,203.38 890.62,203.82 891.15,204.35 891.71,204.96 892.32,205.66 892.97,206.49 893.67,207.44 894.43,208.54 895.25,209.82 896.13,211.3 897.08,213" fill="none" stroke="#D3D8E5" stroke-width="1.0" stroke-linejoin="round"/>
<polyline points="877.74,213 878.29,212.63 878.79,212.31 879.26,212.04 879.7,211.81 880.1,211.61 880.48,211.44 880.83,211.3 881.15,211.17 881.45,211.07 881.73,210.98 882,210.9 882.24,210.83 882.47,210.78 882.68,210.73 882.89,210.69 883.07,210.65 883.25,210.62 883.42,210.6 883.58,210.58 883.74,210.56 883.88,210.54 884.03,210.53 884.16,210.52 884.29,210.51 884.42,210.51 884.55,210.5 884.68,210.5 884.8,210.5 884.9,210.5 885,210.5 885.11,210.51 885.21,210.51 885.32,210.52 885.43,210.53 885.54,210.54 885.66,210.56 885.79,210.58 885.92,210.6 886.06,210.62 886.2,210.65 886.36,210.69 886.52,210.73 886.69,210.78 886.88,210.83 887.08,210.9 887.29,210.98 887.52,211.07 887.76,211.17 888.03,211.3 888.31,211.44 888.62,211.61 888.94,211.81 889.3,212.04 889.68,212.31 890.09,212.63 890.54,213" fill="none" stroke="#D3D8E5" stroke-width="1.0" stroke-linejoin="round"/>
<polyline points="913.9,213 916.04,205.69 918.02,198.99 919.86,192.86 921.56,187.24 923.14,182.12 924.61,177.45 925.97,173.2 927.24,169.35 928.42,165.86 929.51,162.71 930.54,159.87 931.49,157.33 932.39,155.05 933.23,153.03 934.02,151.23 934.76,149.64 935.46,148.25 936.12,147.04 936.75,145.98 937.35,145.08 937.92,144.31 938.47,143.67 939,143.14 939.52,142.72 940.03,142.4 940.52,142.18 941.01,142.04 941.5,142 942.03,142.04 942.57,142.18 943.11,142.4 943.66,142.72 944.23,143.14 944.81,143.67 945.41,144.31 946.04,145.08 946.7,145.98 947.38,147.04 948.11,148.25 948.87,149.64 949.68,151.23 950.54,153.03 951.46,155.05 952.44,157.33 953.48,159.87 954.6,162.71 955.8,165.86 957.09,169.35 958.48,173.2 959.97,177.45 961.57,182.12 963.3,187.24 965.16,192.86 967.17,198.99 969.34,205.69 971.67,213" fill="none" stroke="#D3D8E5" stroke-width="1.0" stroke-linejoin="round"/>
<polyline points="914.88,213 916.94,206.22 918.85,200.04 920.62,194.41 922.27,189.3 923.79,184.67 925.21,180.49 926.52,176.71 927.74,173.32 928.88,170.28 929.94,167.57 930.93,165.16 931.85,163.01 932.71,161.12 933.52,159.45 934.28,157.99 935,156.72 935.67,155.61 936.31,154.65 936.91,153.83 937.49,153.13 938.05,152.55 938.58,152.06 939.09,151.66 939.59,151.34 940.08,151.1 940.56,150.93 941.03,150.83 941.5,150.8 942.01,150.83 942.53,150.93 943.05,151.1 943.59,151.34 944.13,151.66 944.69,152.06 945.28,152.55 945.88,153.13 946.51,153.83 947.17,154.65 947.87,155.61 948.61,156.72 949.39,157.99 950.22,159.45 951.11,161.12 952.05,163.01 953.06,165.16 954.14,167.57 955.29,170.28 956.54,173.32 957.87,176.71 959.31,180.49 960.86,184.67 962.52,189.3 964.32,194.41 966.26,200.04 968.35,206.22 970.6,213" fill="none" stroke="#D3D8E5" stroke-width="1.0" stroke-linejoin="round"/>
<polyline points="916.23,213 918.19,206.91 920.01,201.4 921.69,196.43 923.25,191.95 924.7,187.93 926.04,184.33 927.29,181.11 928.45,178.26 929.52,175.72 930.53,173.48 931.47,171.51 932.34,169.77 933.16,168.26 933.93,166.94 934.65,165.79 935.33,164.8 935.97,163.94 936.57,163.2 937.15,162.58 937.7,162.05 938.22,161.6 938.73,161.24 939.22,160.94 939.69,160.7 940.15,160.52 940.61,160.4 941.05,160.32 941.5,160.3 941.99,160.32 942.48,160.4 942.97,160.52 943.48,160.7 944,160.94 944.53,161.24 945.08,161.6 945.66,162.05 946.26,162.58 946.89,163.2 947.55,163.94 948.25,164.8 948.99,165.79 949.78,166.94 950.62,168.26 951.51,169.77 952.47,171.51 953.49,173.48 954.59,175.72 955.77,178.26 957.04,181.11 958.4,184.33 959.87,187.93 961.45,191.95 963.16,196.43 964.99,201.4 966.98,206.91 969.12,213" fill="none" stroke="#D3D8E5" stroke-width="1.0" stroke-linejoin="round"/>
<polyline points="918.1,213 919.91,207.8 921.59,203.14 923.15,198.97 924.6,195.25 925.94,191.95 927.18,189.02 928.34,186.43 929.41,184.15 930.41,182.15 931.34,180.4 932.21,178.88 933.02,177.55 933.78,176.39 934.49,175.39 935.16,174.53 935.78,173.79 936.38,173.16 936.94,172.62 937.47,172.16 937.98,171.77 938.46,171.45 938.93,171.18 939.38,170.96 939.82,170.79 940.25,170.66 940.67,170.57 941.09,170.52 941.5,170.5 941.95,170.52 942.41,170.57 942.87,170.66 943.33,170.79 943.81,170.96 944.31,171.18 944.82,171.45 945.35,171.77 945.9,172.16 946.49,172.62 947.1,173.16 947.75,173.79 948.44,174.53 949.16,175.39 949.94,176.39 950.77,177.55 951.66,178.88 952.61,180.4 953.62,182.15 954.72,184.15 955.89,186.43 957.15,189.02 958.51,191.95 959.98,195.25 961.56,198.97 963.26,203.14 965.1,207.8 967.08,213" fill="none" stroke="#D3D8E5" stroke-width="1.0" stroke-linejoin="round"/>
<polyline points="920.72,213 922.33,208.92 923.82,205.3 925.2,202.1 926.49,199.28 927.68,196.8 928.78,194.62 929.81,192.72 930.76,191.06 931.65,189.62 932.48,188.37 933.25,187.29 933.97,186.35 934.64,185.54 935.27,184.85 935.86,184.25 936.42,183.74 936.95,183.31 937.45,182.94 937.92,182.62 938.37,182.36 938.8,182.14 939.22,181.96 939.62,181.81 940.01,181.7 940.39,181.61 940.76,181.55 941.13,181.51 941.5,181.5 941.9,181.51 942.3,181.55 942.71,181.61 943.13,181.7 943.55,181.81 943.99,181.96 944.45,182.14 944.92,182.36 945.41,182.62 945.93,182.94 946.47,183.31 947.05,183.74 947.66,184.25 948.31,184.85 949,185.54 949.73,186.35 950.52,187.29 951.36,188.37 952.27,189.62 953.24,191.06 954.28,192.72 955.4,194.62 956.61,196.8 957.91,199.28 959.31,202.1 960.83,205.3 962.46,208.92 964.22,213" fill="none" stroke="#D3D8E5" stroke-width="1.0" stroke-linejoin="round"/>
<polyline points="923.43,213 924.83,209.93 926.13,207.24 927.33,204.88 928.45,202.81 929.48,201.02 930.44,199.45 931.34,198.09 932.17,196.92 932.94,195.9 933.66,195.03 934.33,194.27 934.95,193.62 935.54,193.06 936.09,192.58 936.6,192.17 937.09,191.82 937.54,191.53 937.98,191.27 938.39,191.06 938.78,190.88 939.16,190.73 939.52,190.61 939.87,190.51 940.21,190.43 940.54,190.37 940.86,190.33 941.18,190.31 941.5,190.3 941.85,190.31 942.2,190.33 942.55,190.37 942.92,190.43 943.29,190.51 943.67,190.61 944.06,190.73 944.47,190.88 944.9,191.06 945.35,191.27 945.82,191.53 946.32,191.82 946.85,192.17 947.42,192.58 948.02,193.06 948.66,193.62 949.34,194.27 950.07,195.03 950.86,195.9 951.7,196.92 952.61,198.09 953.58,199.45 954.63,201.02 955.77,202.81 956.98,204.88 958.3,207.24 959.72,209.93 961.25,213" fill="none" stroke="#D3D8E5" stroke-width="1.0" stroke-linejoin="round"/>
<polyline points="927.74,213 928.81,211.23 929.79,209.7 930.71,208.37 931.56,207.22 932.35,206.22 933.08,205.37 933.76,204.63 934.39,203.99 934.98,203.45 935.53,202.98 936.04,202.58 936.51,202.24 936.96,201.94 937.38,201.69 937.77,201.48 938.14,201.29 938.49,201.14 938.82,201.01 939.13,200.89 939.43,200.8 939.72,200.72 939.99,200.66 940.26,200.61 940.51,200.57 940.77,200.54 941.01,200.52 941.26,200.5 941.5,200.5 941.77,200.5 942.03,200.52 942.3,200.54 942.58,200.57 942.86,200.61 943.15,200.66 943.45,200.72 943.76,200.8 944.09,200.89 944.43,201.01 944.79,201.14 945.17,201.29 945.58,201.48 946.01,201.69 946.46,201.94 946.95,202.24 947.47,202.58 948.03,202.98 948.63,203.45 949.27,203.99 949.96,204.63 950.7,205.37 951.5,206.22 952.37,207.22 953.29,208.37 954.29,209.7 955.38,211.23 956.54,213" fill="none" stroke="#D3D8E5" stroke-width="1.0" stroke-linejoin="round"/>
<polyline points="934.6,213 935.14,212.56 935.63,212.18 936.09,211.85 936.52,211.58 936.91,211.34 937.28,211.13 937.62,210.96 937.94,210.81 938.23,210.68 938.5,210.57 938.76,210.48 939,210.4 939.22,210.33 939.43,210.27 939.63,210.22 939.81,210.18 939.99,210.15 940.15,210.12 940.31,210.09 940.46,210.07 940.61,210.05 940.74,210.04 940.88,210.02 941.01,210.02 941.13,210.01 941.26,210 941.38,210 941.5,210 941.63,210 941.77,210 941.9,210.01 942.04,210.02 942.18,210.02 942.33,210.04 942.48,210.05 942.63,210.07 942.8,210.09 942.97,210.12 943.15,210.15 943.34,210.18 943.54,210.22 943.76,210.27 943.99,210.33 944.23,210.4 944.49,210.48 944.77,210.57 945.07,210.68 945.4,210.81 945.74,210.96 946.11,211.13 946.52,211.34 946.95,211.58 947.41,211.85 947.91,212.18 948.46,212.56 949.04,213" fill="none" stroke="#D3D8E5" stroke-width="1.0" stroke-linejoin="round"/>
<linearGradient id="g1" gradientUnits="userSpaceOnUse" x1="0" y1="114" x2="0" y2="92"><stop offset="0" stop-color="#D65E5E"/><stop offset="1" stop-color="#D3D8E5"/></linearGradient>
<polyline points="884.8,114.3 884.27,114.23 883.74,114.01 883.2,113.65 882.65,113.14 882.09,112.48 881.51,111.67 880.92,110.7 880.29,109.58 879.64,108.29 878.96,106.84 878.24,105.2 877.48,103.38 876.68,101.35 875.83,99.13 874.92,96.67 873.95,93.99 872.91,91.05 871.8,87.84 870.61,84.34 869.33,80.53 867.95,76.39 866.47,71.88 864.88,67 863.17,61.69 861.32,55.93 859.32,49.69 857.17,42.93 854.85,35.6" fill="none" stroke="url(#g1)" stroke-width="1.2" stroke-linejoin="round"/>
<linearGradient id="g2" gradientUnits="userSpaceOnUse" x1="0" y1="104" x2="0" y2="80"><stop offset="0" stop-color="#5670D6"/><stop offset="1" stop-color="#D3D8E5"/></linearGradient>
<polyline points="941.5,104.5 942,104.45 942.51,104.31 943.02,104.08 943.54,103.75 944.07,103.31 944.62,102.76 945.19,102.1 945.78,101.31 946.4,100.39 947.05,99.31 947.73,98.08 948.45,96.67 949.21,95.08 950.03,93.29 950.89,91.27 951.81,89.03 952.8,86.52 953.85,83.75 954.98,80.68 956.2,77.29 957.5,73.57 958.91,69.48 960.42,65 962.05,60.1 963.81,54.74 965.7,48.9 967.74,42.53 969.95,35.6" fill="none" stroke="url(#g2)" stroke-width="1.2" stroke-linejoin="round"/>
<linearGradient id="g3" gradientUnits="userSpaceOnUse" x1="0" y1="128" x2="0" y2="150"><stop offset="0" stop-color="#5670D6"/><stop offset="1" stop-color="#D3D8E5"/></linearGradient>
<polyline points="884.8,128.2 884.24,128.28 883.68,128.51 883.11,128.9 882.53,129.45 881.94,130.15 881.33,131.02 880.7,132.06 880.04,133.27 879.35,134.65 878.63,136.22 877.88,137.98 877.07,139.94 876.23,142.12 875.32,144.52 874.36,147.16 873.34,150.05 872.24,153.22 871.07,156.68 869.81,160.45 868.46,164.55 867.01,169.02 865.45,173.87 863.77,179.15 861.96,184.87 860.01,191.07 857.9,197.8 855.63,205.1 853.18,213" fill="none" stroke="url(#g3)" stroke-width="1.2" stroke-linejoin="round"/>
<linearGradient id="g4" gradientUnits="userSpaceOnUse" x1="0" y1="137" x2="0" y2="160"><stop offset="0" stop-color="#D65E5E"/><stop offset="1" stop-color="#D3D8E5"/></linearGradient>
<polyline points="941.5,137.3 942.04,137.35 942.58,137.51 943.14,137.78 943.7,138.15 944.27,138.65 944.86,139.27 945.47,140.01 946.11,140.9 946.78,141.95 947.47,143.15 948.21,144.53 948.98,146.1 949.81,147.87 950.68,149.87 951.61,152.1 952.6,154.59 953.67,157.35 954.8,160.41 956.02,163.79 957.33,167.5 958.74,171.59 960.25,176.06 961.88,180.96 963.63,186.31 965.52,192.16 967.56,198.52 969.76,205.46 972.14,213" fill="none" stroke="url(#g4)" stroke-width="1.2" stroke-linejoin="round"/>
<line x1="824.2" y1="124.4" x2="1000.6" y2="124.4" stroke="#231815" stroke-width="2" stroke-dasharray="7.3 7.42" stroke-dashoffset="7.72"/>
<path d="M824.2,164.1 C828.38,162.32 840.23,157.58 849.3,153.4 C858.37,149.22 869.45,143.85 878.6,139 C887.75,134.15 896.72,128.47 904.2,124.3 C911.68,120.13 917.87,117.05 923.5,114 C929.13,110.95 935,107.58 938,106 C941,104.42 940.92,104.75 941.5,104.5" fill="none" stroke="#5670D6" stroke-width="1.25" stroke-linecap="round"/>
<path d="M884.8,128.2 C885.67,128.47 888.3,128.97 890,129.8 C891.7,130.63 889.77,130.57 895,133.2 C900.23,135.83 912.12,141.45 921.4,145.6 C930.68,149.75 943.02,155.07 950.7,158.1 C958.38,161.13 962.27,162.08 967.5,163.8 C972.73,165.52 978.43,167.72 982.1,168.4 C985.77,169.08 986.42,168.58 989.5,167.9 C992.58,167.22 998.75,164.9 1000.6,164.3" fill="none" stroke="#5670D6" stroke-width="1.25" stroke-linecap="round"/>
<path d="M824.2,176.4 C827.17,177.02 835.37,178.75 842,180.1 C848.63,181.45 857.9,183.53 864,184.5 C870.1,185.47 872.6,185.57 878.6,185.9 C884.6,186.23 892.38,186.73 900,186.5 C907.62,186.27 917.8,185.33 924.3,184.5 C930.8,183.67 934.12,182.37 939,181.5 C943.88,180.63 948.85,180.33 953.6,179.3 C958.35,178.27 962.43,176.43 967.5,175.3 C972.57,174.17 978.48,172.35 984,172.5 C989.52,172.65 997.83,175.58 1000.6,176.2" fill="none" stroke="#5670D6" stroke-width="1.25" stroke-linecap="round"/>
<path d="M884.8,114.3 C885.67,114.68 886.58,114.67 890,116.6 C893.42,118.53 898.37,121.92 905.3,125.9 C912.23,129.88 923.55,136.23 931.6,140.5 C939.65,144.77 946.37,147.83 953.6,151.5 C960.83,155.17 967.17,158.92 975,162.5 C982.83,166.08 996.33,171.25 1000.6,173" fill="none" stroke="#D65E5E" stroke-width="1.25" stroke-linecap="round"/>
<path d="M824.2,173.2 C826.67,173.85 833.6,176.93 839,177.1 C844.4,177.27 850,176.15 856.6,174.2 C863.2,172.25 871.37,168.57 878.6,165.4 C885.83,162.23 892.87,158.37 900,155.2 C907.13,152.03 916.13,148.85 921.4,146.4 C926.67,143.95 928.92,141.93 931.6,140.5 C934.28,139.07 935.85,138.33 937.5,137.8 C939.15,137.27 940.83,137.38 941.5,137.3" fill="none" stroke="#D65E5E" stroke-width="1.25" stroke-linecap="round"/>
<path d="M824.2,184.6 C826.67,184.08 833.6,181.65 839,181.5 C844.4,181.35 851.22,182.72 856.6,183.7 C861.98,184.68 866.4,186.3 871.3,187.4 C876.2,188.5 881.22,189.57 886,190.3 C890.78,191.03 894.83,191.18 900,191.8 C905.17,192.42 910.5,193.88 917,194 C923.5,194.12 931.67,192.87 939,192.5 C946.33,192.13 954.42,192.22 961,191.8 C967.58,191.38 971.9,191.15 978.5,190 C985.1,188.85 996.92,185.75 1000.6,184.9" fill="none" stroke="#D65E5E" stroke-width="1.25" stroke-linecap="round"/>
</g>
<line x1="912.4" y1="35.6" x2="912.4" y2="38.6" stroke="#2e2e2e" stroke-width="1.6" />
<line x1="912.4" y1="213" x2="912.4" y2="210" stroke="#2e2e2e" stroke-width="1.6" />
<line x1="824.2" y1="124.4" x2="827.2" y2="124.4" stroke="#2e2e2e" stroke-width="1.6" />
<line x1="1000.6" y1="124.4" x2="997.6" y2="124.4" stroke="#2e2e2e" stroke-width="1.6" />
<rect x="824.2" y="35.6" width="176.4" height="177.4" fill="none" stroke="#2e2e2e" stroke-width="2.0"/>
<text x="818" y="46.8" font-size="22.8" text-anchor="end" fill="#231815" font-family="Liberation Sans" >0.5</text>
<text x="815" y="133.1" font-size="22.8" text-anchor="end" fill="#231815" font-family="Liberation Sans" >0</text>
<text x="815" y="221.5" font-size="22.8" text-anchor="end" fill="#231815" font-family="Liberation Sans" >-0.5</text>
<text x="824.3" y="237.2" font-size="22.8" text-anchor="middle" fill="#231815" font-family="Liberation Sans" >0</text>
<text x="911.1" y="237" font-size="22.8" text-anchor="middle" fill="#231815" font-family="Liberation Sans" >&#960;</text>
<text x="998" y="237" font-size="22.8" text-anchor="middle" fill="#231815" font-family="Liberation Sans" >2&#960;</text>
<text x="871.3" y="262.6" font-size="25.5" letter-spacing="0.55" fill="#231815" font-family="Liberation Sans">k<tspan font-size="15" dy="1">x</tspan><tspan dy="-1" dx="3.5">(1/a)</tspan></text>
<clipPath id="ccl"><rect x="91.6" y="310.2" width="177.00000000000003" height="177.10000000000002"/></clipPath>
<g clip-path="url(#ccl)">
<line x1="136.1" y1="310.2" x2="136.1" y2="487.3" stroke="#B8B8B8" stroke-width="2" />
<line x1="224.3" y1="310.2" x2="224.3" y2="487.3" stroke="#B8B8B8" stroke-width="2" />
<polyline points="124.3,310.2 124.88,314.16 125.46,318.12 126.04,322.09 126.62,326.05 127.2,330.01 127.78,333.97 128.36,337.93 128.94,341.89 129.52,345.85 130.1,349.81 130.68,353.77 131.26,357.73 131.84,361.68 132.42,365.63 133,369.58 133.58,373.52 134.16,377.44 134.74,381.32 135.32,385.06 135.9,387.5 136.48,385.06 137.06,381.32 137.64,377.44 138.22,373.52 138.8,369.58 139.38,365.63 139.96,361.68 140.54,357.73 141.12,353.77 141.7,349.81 142.28,345.85 142.86,341.89 143.44,337.93 144.02,333.97 144.6,330.01 145.18,326.05 145.76,322.09 146.34,318.12 146.92,314.16 147.5,310.2" fill="none" stroke="#0072BD" stroke-width="2.1" stroke-linejoin="round"/>
<polyline points="123.6,487.3 124.22,482.75 124.83,478.19 125.45,473.64 126.06,469.09 126.68,464.54 127.29,459.99 127.91,455.43 128.52,450.88 129.13,446.33 129.75,441.78 130.37,437.23 130.98,432.69 131.59,428.14 132.21,423.6 132.83,419.06 133.44,414.53 134.06,410.01 134.67,405.52 135.28,401.17 135.9,398.2 136.52,401.17 137.13,405.52 137.75,410.01 138.36,414.53 138.97,419.06 139.59,423.6 140.21,428.14 140.82,432.69 141.44,437.23 142.05,441.78 142.67,446.33 143.28,450.88 143.9,455.43 144.51,459.99 145.12,464.54 145.74,469.09 146.36,473.64 146.97,478.19 147.59,482.75 148.2,487.3" fill="none" stroke="#0072BD" stroke-width="2.1" stroke-linejoin="round"/>
<polyline points="212.9,310.2 213.47,314.16 214.04,318.12 214.61,322.09 215.18,326.05 215.75,330.01 216.32,333.97 216.89,337.93 217.46,341.89 218.03,345.85 218.6,349.81 219.17,353.77 219.74,357.73 220.31,361.68 220.88,365.63 221.45,369.58 222.02,373.52 222.59,377.44 223.16,381.32 223.73,385.06 224.3,387.5 224.87,385.06 225.44,381.32 226.01,377.44 226.58,373.52 227.15,369.58 227.72,365.63 228.29,361.68 228.86,357.73 229.43,353.77 230,349.81 230.57,345.85 231.14,341.89 231.71,337.93 232.28,333.97 232.85,330.01 233.42,326.05 233.99,322.09 234.56,318.12 235.13,314.16 235.7,310.2" fill="none" stroke="#0072BD" stroke-width="2.1" stroke-linejoin="round"/>
<polyline points="211.8,487.3 212.43,482.75 213.05,478.19 213.68,473.64 214.3,469.09 214.93,464.54 215.55,459.99 216.18,455.43 216.8,450.88 217.43,446.33 218.05,441.78 218.68,437.23 219.3,432.69 219.93,428.14 220.55,423.6 221.18,419.06 221.8,414.53 222.43,410.01 223.05,405.52 223.68,401.17 224.3,398.2 224.93,401.17 225.55,405.52 226.18,410.01 226.8,414.53 227.43,419.06 228.05,423.6 228.68,428.14 229.3,432.69 229.93,437.23 230.55,441.78 231.18,446.33 231.8,450.88 232.43,455.43 233.05,459.99 233.68,464.54 234.3,469.09 234.93,473.64 235.55,478.19 236.18,482.75 236.8,487.3" fill="none" stroke="#0072BD" stroke-width="2.1" stroke-linejoin="round"/>
<line x1="91.6" y1="469.7" x2="268.6" y2="469.7" stroke="#231815" stroke-width="2" stroke-dasharray="7.3 7.42" stroke-dashoffset="0.1"/>
</g>
<line x1="91.6" y1="434.28" x2="94.6" y2="434.28" stroke="#2e2e2e" stroke-width="1.6" />
<line x1="268.6" y1="434.28" x2="265.6" y2="434.28" stroke="#2e2e2e" stroke-width="1.6" />
<line x1="91.6" y1="398.86" x2="94.6" y2="398.86" stroke="#2e2e2e" stroke-width="1.6" />
<line x1="268.6" y1="398.86" x2="265.6" y2="398.86" stroke="#2e2e2e" stroke-width="1.6" />
<line x1="91.6" y1="363.44" x2="94.6" y2="363.44" stroke="#2e2e2e" stroke-width="1.6" />
<line x1="268.6" y1="363.44" x2="265.6" y2="363.44" stroke="#2e2e2e" stroke-width="1.6" />
<line x1="91.6" y1="328.02" x2="94.6" y2="328.02" stroke="#2e2e2e" stroke-width="1.6" />
<line x1="268.6" y1="328.02" x2="265.6" y2="328.02" stroke="#2e2e2e" stroke-width="1.6" />
<rect x="91.6" y="310.2" width="177" height="177.1" fill="none" stroke="#2e2e2e" stroke-width="2.0"/>
<text x="87" y="335.7" font-size="22.8" text-anchor="end" fill="#231815" font-family="Liberation Sans" >0.8</text>
<text x="87" y="407.1" font-size="22.8" text-anchor="end" fill="#231815" font-family="Liberation Sans" >0.4</text>
<text x="87.3" y="478" font-size="22.8" text-anchor="end" fill="#231815" font-family="Liberation Sans" >0</text>
<text x="93.5" y="513.3" font-size="22.5" text-anchor="middle" fill="#231815" font-family="Liberation Sans" >&#915;</text>
<text x="137.8" y="513.3" font-size="22.5" text-anchor="middle" fill="#231815" font-family="Liberation Sans" >K</text>
<text x="228" y="513.3" font-size="22.5" text-anchor="middle" fill="#231815" font-family="Liberation Sans" >K&#8217;</text>
<text x="269" y="513.3" font-size="22.5" text-anchor="middle" fill="#231815" font-family="Liberation Sans" >&#915;</text>
<text x="150.8" y="298.9" font-size="22" letter-spacing="0.5" fill="#231815" font-family="Liberation Sans">k<tspan font-size="15" dy="0.5">z</tspan><tspan dy="-0.5" dx="4">= 0</tspan></text>
<text transform="translate(33.7,396.1) rotate(-90)" x="0" y="0" font-size="22.3" text-anchor="middle" fill="#231815" font-family="Liberation Sans">Energy (eV)</text>
<text x="7.3" y="281.8" font-size="29.5" text-anchor="start" fill="#231815" font-family="Liberation Sans" style="stroke:none">(c)</text>
<clipPath id="ccr"><rect x="326.3" y="312.2" width="175.7" height="175.3"/></clipPath>
<g clip-path="url(#ccr)">
<polyline points="355.05,312.2 357.46,318.29 359.7,323.93 361.77,329.13 363.7,333.94 365.48,338.39 367.14,342.5 368.67,346.29 370.1,349.79 371.44,353.03 372.67,356.01 373.83,358.77 374.91,361.31 375.92,363.65 376.86,365.8 377.75,367.77 378.59,369.58 379.38,371.23 380.13,372.73 380.84,374.09 381.51,375.31 382.16,376.39 382.78,377.33 383.38,378.13 383.97,378.8 384.54,379.32 385.1,379.7 385.65,379.92 386.2,380 386.68,379.92 387.16,379.7 387.65,379.32 388.14,378.8 388.65,378.13 389.18,377.33 389.72,376.39 390.28,375.31 390.87,374.09 391.49,372.73 392.14,371.23 392.83,369.58 393.55,367.77 394.33,365.8 395.15,363.65 396.03,361.31 396.97,358.77 397.98,356.01 399.06,353.03 400.21,349.79 401.46,346.29 402.8,342.5 404.24,338.39 405.79,333.94 407.47,329.13 409.27,323.93 411.22,318.29 413.32,312.2" fill="none" stroke="#D3D8E5" stroke-width="1.0" stroke-linejoin="round"/>
<polyline points="414.98,312.2 417.08,318.29 419.03,323.93 420.83,329.13 422.51,333.94 424.06,338.39 425.5,342.5 426.84,346.29 428.09,349.79 429.24,353.03 430.32,356.01 431.33,358.77 432.27,361.31 433.15,363.65 433.97,365.8 434.75,367.77 435.47,369.58 436.16,371.23 436.81,372.73 437.43,374.09 438.02,375.31 438.58,376.39 439.12,377.33 439.65,378.13 440.16,378.8 440.65,379.32 441.14,379.7 441.62,379.92 442.1,380 442.65,379.92 443.2,379.7 443.76,379.32 444.33,378.8 444.92,378.13 445.52,377.33 446.14,376.39 446.79,375.31 447.46,374.09 448.17,372.73 448.92,371.23 449.71,369.58 450.55,367.77 451.44,365.8 452.38,363.65 453.39,361.31 454.47,358.77 455.63,356.01 456.86,353.03 458.2,349.79 459.63,346.29 461.16,342.5 462.82,338.39 464.6,333.94 466.53,329.13 468.6,323.93 470.84,318.29 473.25,312.2" fill="none" stroke="#D3D8E5" stroke-width="1.0" stroke-linejoin="round"/>
<polyline points="355.84,312.2 358.19,317.98 360.37,323.29 362.4,328.18 364.27,332.67 366.01,336.78 367.62,340.56 369.12,344.01 370.51,347.16 371.81,350.04 373.02,352.66 374.14,355.04 375.2,357.2 376.18,359.14 377.1,360.89 377.97,362.46 378.78,363.86 379.55,365.11 380.28,366.2 380.97,367.16 381.63,368 382.26,368.71 382.87,369.31 383.45,369.81 384.02,370.21 384.58,370.51 385.13,370.73 385.66,370.86 386.2,370.9 386.67,370.86 387.14,370.73 387.61,370.51 388.09,370.21 388.59,369.81 389.1,369.31 389.63,368.71 390.18,368 390.75,367.16 391.35,366.2 391.99,365.11 392.66,363.86 393.37,362.46 394.12,360.89 394.92,359.14 395.78,357.2 396.7,355.04 397.68,352.66 398.73,350.04 399.86,347.16 401.07,344.01 402.38,340.56 403.78,336.78 405.3,332.67 406.93,328.18 408.69,323.29 410.59,317.98 412.64,312.2" fill="none" stroke="#D3D8E5" stroke-width="1.0" stroke-linejoin="round"/>
<polyline points="415.66,312.2 417.71,317.98 419.61,323.29 421.37,328.18 423,332.67 424.52,336.78 425.92,340.56 427.23,344.01 428.44,347.16 429.57,350.04 430.62,352.66 431.6,355.04 432.52,357.2 433.38,359.14 434.18,360.89 434.93,362.46 435.64,363.86 436.31,365.11 436.95,366.2 437.55,367.16 438.12,368 438.67,368.71 439.2,369.31 439.71,369.81 440.21,370.21 440.69,370.51 441.16,370.73 441.63,370.86 442.1,370.9 442.64,370.86 443.17,370.73 443.72,370.51 444.28,370.21 444.85,369.81 445.43,369.31 446.04,368.71 446.67,368 447.33,367.16 448.02,366.2 448.75,365.11 449.52,363.86 450.33,362.46 451.2,360.89 452.12,359.14 453.1,357.2 454.16,355.04 455.28,352.66 456.49,350.04 457.79,347.16 459.18,344.01 460.68,340.56 462.29,336.78 464.03,332.67 465.9,328.18 467.93,323.29 470.11,317.98 472.46,312.2" fill="none" stroke="#D3D8E5" stroke-width="1.0" stroke-linejoin="round"/>
<polyline points="357.04,312.2 359.3,317.52 361.39,322.37 363.33,326.81 365.13,330.84 366.8,334.52 368.35,337.84 369.79,340.86 371.13,343.58 372.38,346.02 373.54,348.22 374.62,350.18 375.63,351.93 376.58,353.48 377.46,354.85 378.29,356.06 379.08,357.12 379.81,358.04 380.51,358.84 381.18,359.53 381.81,360.12 382.42,360.62 383,361.03 383.56,361.37 384.11,361.64 384.64,361.84 385.17,361.99 385.69,362.07 386.2,362.1 386.65,362.07 387.1,361.99 387.56,361.84 388.02,361.64 388.5,361.37 388.99,361.03 389.49,360.62 390.02,360.12 390.57,359.53 391.15,358.84 391.76,358.04 392.4,357.12 393.09,356.06 393.81,354.85 394.58,353.48 395.4,351.93 396.28,350.18 397.23,348.22 398.24,346.02 399.32,343.58 400.49,340.86 401.74,337.84 403.09,334.52 404.54,330.84 406.11,326.81 407.8,322.37 409.63,317.52 411.59,312.2" fill="none" stroke="#D3D8E5" stroke-width="1.0" stroke-linejoin="round"/>
<polyline points="416.71,312.2 418.67,317.52 420.5,322.37 422.19,326.81 423.76,330.84 425.21,334.52 426.56,337.84 427.81,340.86 428.98,343.58 430.06,346.02 431.07,348.22 432.02,350.18 432.9,351.93 433.72,353.48 434.49,354.85 435.21,356.06 435.9,357.12 436.54,358.04 437.15,358.84 437.73,359.53 438.28,360.12 438.81,360.62 439.31,361.03 439.8,361.37 440.28,361.64 440.74,361.84 441.2,361.99 441.65,362.07 442.1,362.1 442.61,362.07 443.13,361.99 443.66,361.84 444.19,361.64 444.74,361.37 445.3,361.03 445.88,360.62 446.49,360.12 447.12,359.53 447.79,358.84 448.49,358.04 449.22,357.12 450.01,356.06 450.84,354.85 451.72,353.48 452.67,351.93 453.68,350.18 454.76,348.22 455.92,346.02 457.17,343.58 458.51,340.86 459.95,337.84 461.5,334.52 463.17,330.84 464.97,326.81 466.91,322.37 469,317.52 471.26,312.2" fill="none" stroke="#D3D8E5" stroke-width="1.0" stroke-linejoin="round"/>
<polyline points="358.78,312.2 360.9,316.88 362.87,321.12 364.7,324.95 366.39,328.41 367.96,331.52 369.42,334.3 370.77,336.79 372.03,339 373.2,340.97 374.29,342.71 375.31,344.24 376.26,345.59 377.15,346.77 377.98,347.8 378.76,348.7 379.5,349.48 380.2,350.15 380.85,350.72 381.48,351.21 382.07,351.63 382.64,351.98 383.19,352.26 383.72,352.5 384.23,352.68 384.74,352.82 385.23,352.92 385.72,352.98 386.2,353 386.62,352.98 387.05,352.92 387.47,352.82 387.91,352.68 388.36,352.5 388.82,352.26 389.3,351.98 389.79,351.63 390.31,351.21 390.86,350.72 391.43,350.15 392.03,349.48 392.67,348.7 393.36,347.8 394.08,346.77 394.85,345.59 395.68,344.24 396.57,342.71 397.52,340.97 398.54,339 399.63,336.79 400.81,334.3 402.08,331.52 403.45,328.41 404.92,324.95 406.51,321.12 408.23,316.88 410.08,312.2" fill="none" stroke="#D3D8E5" stroke-width="1.0" stroke-linejoin="round"/>
<polyline points="418.22,312.2 420.07,316.88 421.79,321.12 423.38,324.95 424.85,328.41 426.22,331.52 427.49,334.3 428.67,336.79 429.76,339 430.78,340.97 431.73,342.71 432.62,344.24 433.45,345.59 434.22,346.77 434.94,347.8 435.63,348.7 436.27,349.48 436.87,350.15 437.44,350.72 437.99,351.21 438.51,351.63 439,351.98 439.48,352.26 439.94,352.5 440.39,352.68 440.83,352.82 441.25,352.92 441.68,352.98 442.1,353 442.58,352.98 443.07,352.92 443.56,352.82 444.07,352.68 444.58,352.5 445.11,352.26 445.66,351.98 446.23,351.63 446.82,351.21 447.45,350.72 448.1,350.15 448.8,349.48 449.54,348.7 450.32,347.8 451.15,346.77 452.04,345.59 452.99,344.24 454.01,342.71 455.1,340.97 456.27,339 457.53,336.79 458.88,334.3 460.34,331.52 461.91,328.41 463.6,324.95 465.43,321.12 467.4,316.88 469.52,312.2" fill="none" stroke="#D3D8E5" stroke-width="1.0" stroke-linejoin="round"/>
<polyline points="360.99,312.2 362.94,316.14 364.75,319.67 366.43,322.83 367.99,325.65 369.43,328.15 370.77,330.37 372.01,332.33 373.17,334.06 374.25,335.57 375.25,336.9 376.19,338.05 377.06,339.06 377.88,339.94 378.64,340.69 379.36,341.34 380.04,341.91 380.68,342.39 381.28,342.8 381.86,343.14 382.41,343.44 382.93,343.68 383.43,343.89 383.92,344.05 384.39,344.18 384.85,344.28 385.31,344.35 385.76,344.39 386.2,344.4 386.59,344.39 386.98,344.35 387.37,344.28 387.77,344.18 388.19,344.05 388.61,343.89 389.05,343.68 389.5,343.44 389.98,343.14 390.48,342.8 391.01,342.39 391.56,341.91 392.15,341.34 392.78,340.69 393.45,339.94 394.16,339.06 394.92,338.05 395.73,336.9 396.61,335.57 397.54,334.06 398.55,332.33 399.64,330.37 400.8,328.15 402.06,325.65 403.42,322.83 404.88,319.67 406.45,316.14 408.16,312.2" fill="none" stroke="#D3D8E5" stroke-width="1.0" stroke-linejoin="round"/>
<polyline points="420.14,312.2 421.85,316.14 423.42,319.67 424.88,322.83 426.24,325.65 427.5,328.15 428.66,330.37 429.75,332.33 430.76,334.06 431.69,335.57 432.57,336.9 433.38,338.05 434.14,339.06 434.85,339.94 435.52,340.69 436.15,341.34 436.74,341.91 437.29,342.39 437.82,342.8 438.32,343.14 438.8,343.44 439.25,343.68 439.69,343.89 440.11,344.05 440.53,344.18 440.93,344.28 441.32,344.35 441.71,344.39 442.1,344.4 442.54,344.39 442.99,344.35 443.45,344.28 443.91,344.18 444.38,344.05 444.87,343.89 445.37,343.68 445.89,343.44 446.44,343.14 447.02,342.8 447.62,342.39 448.26,341.91 448.94,341.34 449.66,340.69 450.42,339.94 451.24,339.06 452.11,338.05 453.05,336.9 454.05,335.57 455.13,334.06 456.29,332.33 457.53,330.37 458.87,328.15 460.31,325.65 461.87,322.83 463.55,319.67 465.36,316.14 467.31,312.2" fill="none" stroke="#D3D8E5" stroke-width="1.0" stroke-linejoin="round"/>
<polyline points="364.15,312.2 365.85,315.2 367.44,317.85 368.91,320.19 370.27,322.26 371.53,324.07 372.7,325.66 373.79,327.05 374.8,328.26 375.75,329.31 376.62,330.22 377.44,331 378.21,331.68 378.92,332.27 379.59,332.77 380.22,333.21 380.81,333.58 381.37,333.89 381.9,334.16 382.4,334.39 382.88,334.58 383.34,334.74 383.78,334.87 384.21,334.97 384.62,335.06 385.02,335.12 385.42,335.17 385.81,335.19 386.2,335.2 386.54,335.19 386.88,335.17 387.23,335.12 387.58,335.06 387.94,334.97 388.31,334.87 388.69,334.74 389.09,334.58 389.51,334.39 389.94,334.16 390.41,333.89 390.89,333.58 391.41,333.21 391.95,332.77 392.54,332.27 393.16,331.68 393.83,331 394.54,330.22 395.3,329.31 396.12,328.26 397,327.05 397.95,325.66 398.97,324.07 400.07,322.26 401.26,320.19 402.54,317.85 403.92,315.2 405.4,312.2" fill="none" stroke="#D3D8E5" stroke-width="1.0" stroke-linejoin="round"/>
<polyline points="422.9,312.2 424.38,315.2 425.76,317.85 427.04,320.19 428.23,322.26 429.33,324.07 430.35,325.66 431.3,327.05 432.18,328.26 433,329.31 433.76,330.22 434.47,331 435.14,331.68 435.76,332.27 436.35,332.77 436.89,333.21 437.41,333.58 437.89,333.89 438.36,334.16 438.79,334.39 439.21,334.58 439.61,334.74 439.99,334.87 440.36,334.97 440.72,335.06 441.07,335.12 441.42,335.17 441.76,335.19 442.1,335.2 442.49,335.19 442.88,335.17 443.28,335.12 443.68,335.06 444.09,334.97 444.52,334.87 444.96,334.74 445.42,334.58 445.9,334.39 446.4,334.16 446.93,333.89 447.49,333.58 448.08,333.21 448.71,332.77 449.38,332.27 450.09,331.68 450.86,331 451.68,330.22 452.55,329.31 453.5,328.26 454.51,327.05 455.6,325.66 456.77,324.07 458.03,322.26 459.39,320.19 460.86,317.85 462.45,315.2 464.15,312.2" fill="none" stroke="#D3D8E5" stroke-width="1.0" stroke-linejoin="round"/>
<polyline points="368.5,312.2 369.87,314.12 371.14,315.79 372.32,317.25 373.41,318.52 374.43,319.63 375.37,320.58 376.24,321.41 377.06,322.12 377.81,322.74 378.52,323.27 379.17,323.72 379.78,324.11 380.36,324.45 380.9,324.74 381.4,324.98 381.88,325.19 382.32,325.37 382.75,325.52 383.15,325.65 383.54,325.75 383.9,325.84 384.26,325.92 384.6,325.97 384.93,326.02 385.26,326.06 385.57,326.08 385.89,326.1 386.2,326.1 386.47,326.1 386.75,326.08 387.02,326.06 387.3,326.02 387.59,325.97 387.89,325.92 388.2,325.84 388.52,325.75 388.85,325.65 389.21,325.52 389.57,325.37 389.97,325.19 390.38,324.98 390.82,324.74 391.29,324.45 391.79,324.11 392.32,323.72 392.89,323.27 393.5,322.74 394.16,322.12 394.87,321.41 395.63,320.58 396.45,319.63 397.33,318.52 398.28,317.25 399.31,315.79 400.42,314.12 401.61,312.2" fill="none" stroke="#D3D8E5" stroke-width="1.0" stroke-linejoin="round"/>
<polyline points="426.69,312.2 427.88,314.12 428.99,315.79 430.02,317.25 430.97,318.52 431.85,319.63 432.67,320.58 433.43,321.41 434.14,322.12 434.8,322.74 435.41,323.27 435.98,323.72 436.51,324.11 437.01,324.45 437.48,324.74 437.92,324.98 438.33,325.19 438.73,325.37 439.09,325.52 439.45,325.65 439.78,325.75 440.1,325.84 440.41,325.92 440.71,325.97 441,326.02 441.28,326.06 441.55,326.08 441.83,326.1 442.1,326.1 442.41,326.1 442.73,326.08 443.04,326.06 443.37,326.02 443.7,325.97 444.04,325.92 444.4,325.84 444.76,325.75 445.15,325.65 445.55,325.52 445.98,325.37 446.42,325.19 446.9,324.98 447.4,324.74 447.94,324.45 448.52,324.11 449.13,323.72 449.78,323.27 450.49,322.74 451.24,322.12 452.06,321.41 452.93,320.58 453.87,319.63 454.89,318.52 455.98,317.25 457.16,315.79 458.43,314.12 459.8,312.2" fill="none" stroke="#D3D8E5" stroke-width="1.0" stroke-linejoin="round"/>
<polyline points="375.59,312.2 376.41,312.88 377.18,313.47 377.88,313.98 378.54,314.41 379.14,314.79 379.71,315.11 380.23,315.38 380.72,315.62 381.17,315.82 381.59,315.99 381.99,316.14 382.36,316.27 382.7,316.37 383.02,316.47 383.32,316.54 383.61,316.61 383.88,316.67 384.13,316.72 384.37,316.76 384.6,316.79 384.82,316.82 385.04,316.84 385.24,316.86 385.44,316.88 385.63,316.89 385.82,316.89 386.01,316.9 386.2,316.9 386.36,316.9 386.53,316.89 386.69,316.89 386.86,316.88 387.04,316.86 387.21,316.84 387.4,316.82 387.59,316.79 387.79,316.76 388,316.72 388.22,316.67 388.46,316.61 388.7,316.54 388.97,316.47 389.25,316.37 389.55,316.27 389.87,316.14 390.21,315.99 390.58,315.82 390.97,315.62 391.4,315.38 391.85,315.11 392.34,314.79 392.87,314.41 393.44,313.98 394.06,313.47 394.72,312.88 395.44,312.2" fill="none" stroke="#D3D8E5" stroke-width="1.0" stroke-linejoin="round"/>
<polyline points="432.86,312.2 433.58,312.88 434.24,313.47 434.86,313.98 435.43,314.41 435.96,314.79 436.45,315.11 436.9,315.38 437.33,315.62 437.72,315.82 438.09,315.99 438.43,316.14 438.75,316.27 439.05,316.37 439.33,316.47 439.6,316.54 439.84,316.61 440.08,316.67 440.3,316.72 440.51,316.76 440.71,316.79 440.9,316.82 441.09,316.84 441.26,316.86 441.44,316.88 441.61,316.89 441.77,316.89 441.94,316.9 442.1,316.9 442.29,316.9 442.48,316.89 442.67,316.89 442.86,316.88 443.06,316.86 443.26,316.84 443.48,316.82 443.7,316.79 443.93,316.76 444.17,316.72 444.42,316.67 444.69,316.61 444.98,316.54 445.28,316.47 445.6,316.37 445.94,316.27 446.31,316.14 446.71,315.99 447.13,315.82 447.58,315.62 448.07,315.38 448.59,315.11 449.16,314.79 449.76,314.41 450.42,313.98 451.12,313.47 451.89,312.88 452.71,312.2" fill="none" stroke="#D3D8E5" stroke-width="1.0" stroke-linejoin="round"/>
<polyline points="351.99,487.5 354.64,480.81 357.1,474.65 359.38,468.97 361.49,463.75 363.45,458.94 365.27,454.52 366.96,450.46 368.53,446.73 369.99,443.32 371.35,440.2 372.62,437.35 373.8,434.75 374.91,432.38 375.95,430.24 376.92,428.31 377.84,426.57 378.71,425.01 379.53,423.62 380.31,422.4 381.05,421.33 381.76,420.4 382.45,419.61 383.11,418.95 383.75,418.43 384.37,418.02 384.99,417.73 385.6,417.56 386.2,417.5 386.75,417.56 387.3,417.73 387.87,418.02 388.44,418.43 389.02,418.95 389.62,419.61 390.25,420.4 390.9,421.33 391.57,422.4 392.28,423.62 393.03,425.01 393.82,426.57 394.66,428.31 395.55,430.24 396.5,432.38 397.51,434.75 398.59,437.35 399.75,440.2 400.99,443.32 402.32,446.73 403.76,450.46 405.3,454.52 406.96,458.94 408.74,463.75 410.67,468.97 412.75,474.65 414.99,480.81 417.41,487.5" fill="none" stroke="#D3D8E5" stroke-width="1.0" stroke-linejoin="round"/>
<polyline points="410.89,487.5 413.31,480.81 415.55,474.65 417.63,468.97 419.56,463.75 421.34,458.94 423,454.52 424.54,450.46 425.98,446.73 427.31,443.32 428.55,440.2 429.71,437.35 430.79,434.75 431.8,432.38 432.75,430.24 433.64,428.31 434.48,426.57 435.27,425.01 436.02,423.62 436.73,422.4 437.4,421.33 438.05,420.4 438.68,419.61 439.28,418.95 439.86,418.43 440.43,418.02 441,417.73 441.55,417.56 442.1,417.5 442.7,417.56 443.31,417.73 443.93,418.02 444.55,418.43 445.19,418.95 445.85,419.61 446.54,420.4 447.25,421.33 447.99,422.4 448.77,423.62 449.59,425.01 450.46,426.57 451.38,428.31 452.35,430.24 453.39,432.38 454.5,434.75 455.68,437.35 456.95,440.2 458.31,443.32 459.77,446.73 461.34,450.46 463.03,454.52 464.85,458.94 466.81,463.75 468.92,468.97 471.2,474.65 473.66,480.81 476.31,487.5" fill="none" stroke="#D3D8E5" stroke-width="1.0" stroke-linejoin="round"/>
<polyline points="353.03,487.5 355.61,481.23 357.99,475.48 360.19,470.22 362.24,465.4 364.14,461.01 365.9,457 367.54,453.36 369.06,450.05 370.48,447.06 371.8,444.35 373.03,441.92 374.18,439.74 375.25,437.79 376.26,436.05 377.21,434.51 378.1,433.15 378.94,431.96 379.73,430.92 380.49,430.01 381.21,429.24 381.9,428.58 382.56,428.03 383.2,427.58 383.82,427.22 384.43,426.94 385.03,426.75 385.61,426.64 386.2,426.6 386.73,426.64 387.27,426.75 387.81,426.94 388.37,427.22 388.94,427.58 389.52,428.03 390.12,428.58 390.75,429.24 391.41,430.01 392.1,430.92 392.83,431.96 393.59,433.15 394.4,434.51 395.27,436.05 396.19,437.79 397.17,439.74 398.21,441.92 399.34,444.35 400.54,447.06 401.83,450.05 403.22,453.36 404.72,457 406.32,461.01 408.06,465.4 409.92,470.22 411.94,475.48 414.11,481.23 416.46,487.5" fill="none" stroke="#D3D8E5" stroke-width="1.0" stroke-linejoin="round"/>
<polyline points="411.84,487.5 414.19,481.23 416.36,475.48 418.38,470.22 420.24,465.4 421.98,461.01 423.58,457 425.08,453.36 426.47,450.05 427.76,447.06 428.96,444.35 430.09,441.92 431.13,439.74 432.11,437.79 433.03,436.05 433.9,434.51 434.71,433.15 435.47,431.96 436.2,430.92 436.89,430.01 437.55,429.24 438.18,428.58 438.78,428.03 439.36,427.58 439.93,427.22 440.49,426.94 441.03,426.75 441.57,426.64 442.1,426.6 442.69,426.64 443.27,426.75 443.87,426.94 444.48,427.22 445.1,427.58 445.74,428.03 446.4,428.58 447.09,429.24 447.81,430.01 448.57,430.92 449.36,431.96 450.2,433.15 451.09,434.51 452.04,436.05 453.05,437.79 454.12,439.74 455.27,441.92 456.5,444.35 457.82,447.06 459.24,450.05 460.76,453.36 462.4,457 464.16,461.01 466.06,465.4 468.11,470.22 470.31,475.48 472.69,481.23 475.27,487.5" fill="none" stroke="#D3D8E5" stroke-width="1.0" stroke-linejoin="round"/>
<polyline points="354.51,487.5 356.97,481.79 359.24,476.6 361.35,471.88 363.31,467.6 365.12,463.73 366.81,460.23 368.37,457.09 369.83,454.28 371.18,451.76 372.44,449.51 373.62,447.52 374.71,445.76 375.74,444.2 376.7,442.84 377.61,441.64 378.46,440.6 379.26,439.7 380.02,438.92 380.74,438.25 381.43,437.69 382.09,437.21 382.72,436.81 383.33,436.49 383.93,436.24 384.51,436.04 385.08,435.91 385.64,435.83 386.2,435.8 386.71,435.83 387.22,435.91 387.74,436.04 388.27,436.24 388.81,436.49 389.37,436.81 389.95,437.21 390.55,437.69 391.18,438.25 391.84,438.92 392.53,439.7 393.26,440.6 394.04,441.64 394.86,442.84 395.74,444.2 396.68,445.76 397.68,447.52 398.75,449.51 399.9,451.76 401.14,454.28 402.46,457.09 403.89,460.23 405.43,463.73 407.08,467.6 408.87,471.88 410.79,476.6 412.87,481.79 415.11,487.5" fill="none" stroke="#D3D8E5" stroke-width="1.0" stroke-linejoin="round"/>
<polyline points="413.19,487.5 415.43,481.79 417.51,476.6 419.43,471.88 421.22,467.6 422.87,463.73 424.41,460.23 425.84,457.09 427.16,454.28 428.4,451.76 429.55,449.51 430.62,447.52 431.62,445.76 432.56,444.2 433.44,442.84 434.26,441.64 435.04,440.6 435.77,439.7 436.46,438.92 437.12,438.25 437.75,437.69 438.35,437.21 438.93,436.81 439.49,436.49 440.03,436.24 440.56,436.04 441.08,435.91 441.59,435.83 442.1,435.8 442.66,435.83 443.22,435.91 443.79,436.04 444.37,436.24 444.97,436.49 445.58,436.81 446.21,437.21 446.87,437.69 447.56,438.25 448.28,438.92 449.04,439.7 449.84,440.6 450.69,441.64 451.6,442.84 452.56,444.2 453.59,445.76 454.68,447.52 455.86,449.51 457.12,451.76 458.47,454.28 459.93,457.09 461.49,460.23 463.18,463.73 464.99,467.6 466.95,471.88 469.06,476.6 471.33,481.79 473.79,487.5" fill="none" stroke="#D3D8E5" stroke-width="1.0" stroke-linejoin="round"/>
<polyline points="356.48,487.5 358.78,482.5 360.92,477.99 362.9,473.92 364.73,470.28 366.43,467.01 368.01,464.1 369.48,461.5 370.84,459.21 372.11,457.18 373.3,455.39 374.4,453.81 375.43,452.44 376.39,451.24 377.29,450.2 378.14,449.29 378.94,448.51 379.69,447.84 380.4,447.26 381.08,446.77 381.73,446.36 382.34,446.01 382.94,445.73 383.51,445.5 384.07,445.31 384.61,445.17 385.15,445.08 385.68,445.02 386.2,445 386.68,445.02 387.16,445.08 387.65,445.17 388.14,445.31 388.65,445.5 389.18,445.73 389.72,446.01 390.28,446.36 390.87,446.77 391.49,447.26 392.14,447.84 392.82,448.51 393.55,449.29 394.33,450.2 395.15,451.24 396.03,452.44 396.97,453.81 397.97,455.39 399.05,457.18 400.21,459.21 401.45,461.5 402.79,464.1 404.23,467.01 405.79,470.28 407.46,473.92 409.26,477.99 411.21,482.5 413.31,487.5" fill="none" stroke="#D3D8E5" stroke-width="1.0" stroke-linejoin="round"/>
<polyline points="414.99,487.5 417.09,482.5 419.04,477.99 420.84,473.92 422.51,470.28 424.07,467.01 425.51,464.1 426.85,461.5 428.09,459.21 429.25,457.18 430.33,455.39 431.33,453.81 432.27,452.44 433.15,451.24 433.97,450.2 434.75,449.29 435.48,448.51 436.16,447.84 436.81,447.26 437.43,446.77 438.02,446.36 438.58,446.01 439.12,445.73 439.65,445.5 440.16,445.31 440.65,445.17 441.14,445.08 441.62,445.02 442.1,445 442.62,445.02 443.15,445.08 443.69,445.17 444.23,445.31 444.79,445.5 445.36,445.73 445.96,446.01 446.57,446.36 447.22,446.77 447.9,447.26 448.61,447.84 449.36,448.51 450.16,449.29 451.01,450.2 451.91,451.24 452.87,452.44 453.9,453.81 455,455.39 456.19,457.18 457.46,459.21 458.82,461.5 460.29,464.1 461.87,467.01 463.57,470.28 465.4,473.92 467.38,477.99 469.52,482.5 471.82,487.5" fill="none" stroke="#D3D8E5" stroke-width="1.0" stroke-linejoin="round"/>
<polyline points="359.3,487.5 361.39,483.43 363.32,479.79 365.11,476.55 366.77,473.67 368.31,471.13 369.74,468.89 371.07,466.92 372.3,465.19 373.45,463.67 374.52,462.36 375.52,461.21 376.45,460.21 377.32,459.35 378.14,458.61 378.91,457.97 379.63,457.42 380.31,456.96 380.95,456.56 381.57,456.22 382.15,455.93 382.71,455.69 383.25,455.5 383.77,455.34 384.27,455.21 384.76,455.12 385.25,455.05 385.73,455.01 386.2,455 386.63,455.01 387.07,455.05 387.51,455.12 387.96,455.21 388.42,455.34 388.89,455.5 389.38,455.69 389.89,455.93 390.43,456.22 390.98,456.56 391.57,456.96 392.2,457.42 392.85,457.97 393.55,458.61 394.3,459.35 395.09,460.21 395.94,461.21 396.85,462.36 397.83,463.67 398.88,465.19 400.01,466.92 401.22,468.89 402.52,471.13 403.93,473.67 405.44,476.55 407.07,479.79 408.84,483.43 410.74,487.5" fill="none" stroke="#D3D8E5" stroke-width="1.0" stroke-linejoin="round"/>
<polyline points="417.56,487.5 419.46,483.43 421.23,479.79 422.86,476.55 424.37,473.67 425.78,471.13 427.08,468.89 428.29,466.92 429.42,465.19 430.47,463.67 431.45,462.36 432.36,461.21 433.21,460.21 434,459.35 434.75,458.61 435.45,457.97 436.1,457.42 436.73,456.96 437.32,456.56 437.87,456.22 438.41,455.93 438.92,455.69 439.41,455.5 439.88,455.34 440.34,455.21 440.79,455.12 441.23,455.05 441.67,455.01 442.1,455 442.57,455.01 443.05,455.05 443.54,455.12 444.03,455.21 444.53,455.34 445.05,455.5 445.59,455.69 446.15,455.93 446.73,456.22 447.35,456.56 447.99,456.96 448.67,457.42 449.39,457.97 450.16,458.61 450.98,459.35 451.85,460.21 452.78,461.21 453.78,462.36 454.85,463.67 456,465.19 457.23,466.92 458.56,468.89 459.99,471.13 461.53,473.67 463.19,476.55 464.98,479.79 466.91,483.43 469,487.5" fill="none" stroke="#D3D8E5" stroke-width="1.0" stroke-linejoin="round"/>
<polyline points="363.13,487.5 364.92,484.52 366.58,481.9 368.11,479.59 369.54,477.56 370.86,475.79 372.08,474.24 373.22,472.9 374.28,471.73 375.27,470.72 376.18,469.84 377.04,469.09 377.84,468.44 378.59,467.88 379.29,467.4 379.94,466.99 380.56,466.64 381.15,466.34 381.7,466.08 382.23,465.87 382.73,465.69 383.21,465.54 383.67,465.41 384.11,465.31 384.55,465.23 384.97,465.17 385.38,465.13 385.79,465.11 386.2,465.1 386.57,465.11 386.95,465.13 387.32,465.17 387.71,465.23 388.1,465.31 388.51,465.41 388.93,465.54 389.37,465.69 389.82,465.87 390.3,466.08 390.81,466.34 391.34,466.64 391.91,466.99 392.51,467.4 393.15,467.88 393.83,468.44 394.56,469.09 395.34,469.84 396.17,470.72 397.07,471.73 398.04,472.9 399.08,474.24 400.2,475.79 401.4,477.56 402.7,479.59 404.1,481.9 405.61,484.52 407.25,487.5" fill="none" stroke="#D3D8E5" stroke-width="1.0" stroke-linejoin="round"/>
<polyline points="421.05,487.5 422.69,484.52 424.2,481.9 425.6,479.59 426.9,477.56 428.1,475.79 429.22,474.24 430.26,472.9 431.23,471.73 432.13,470.72 432.96,469.84 433.74,469.09 434.47,468.44 435.15,467.88 435.79,467.4 436.39,466.99 436.96,466.64 437.49,466.34 438,466.08 438.48,465.87 438.93,465.69 439.37,465.54 439.79,465.41 440.2,465.31 440.59,465.23 440.98,465.17 441.35,465.13 441.73,465.11 442.1,465.1 442.51,465.11 442.92,465.13 443.33,465.17 443.75,465.23 444.19,465.31 444.63,465.41 445.09,465.54 445.57,465.69 446.07,465.87 446.6,466.08 447.15,466.34 447.74,466.64 448.36,466.99 449.01,467.4 449.71,467.88 450.46,468.44 451.26,469.09 452.12,469.84 453.03,470.72 454.02,471.73 455.08,472.9 456.22,474.24 457.44,475.79 458.76,477.56 460.19,479.59 461.72,481.9 463.38,484.52 465.17,487.5" fill="none" stroke="#D3D8E5" stroke-width="1.0" stroke-linejoin="round"/>
<polyline points="368.58,487.5 369.94,485.77 371.21,484.27 372.38,482.97 373.47,481.84 374.48,480.86 375.42,480.02 376.29,479.29 377.09,478.66 377.85,478.12 378.55,477.66 379.2,477.26 379.81,476.92 380.38,476.63 380.92,476.38 381.42,476.17 381.89,475.99 382.34,475.83 382.76,475.7 383.16,475.59 383.55,475.5 383.91,475.42 384.27,475.36 384.61,475.31 384.94,475.27 385.26,475.24 385.58,475.22 385.89,475.2 386.2,475.2 386.48,475.2 386.77,475.22 387.06,475.24 387.35,475.27 387.65,475.31 387.96,475.36 388.29,475.42 388.62,475.5 388.97,475.59 389.33,475.7 389.72,475.83 390.13,475.99 390.56,476.17 391.02,476.38 391.51,476.63 392.03,476.92 392.58,477.26 393.18,477.66 393.82,478.12 394.51,478.66 395.24,479.29 396.04,480.02 396.89,480.86 397.81,481.84 398.81,482.97 399.88,484.27 401.03,485.77 402.28,487.5" fill="none" stroke="#D3D8E5" stroke-width="1.0" stroke-linejoin="round"/>
<polyline points="426.02,487.5 427.27,485.77 428.42,484.27 429.49,482.97 430.49,481.84 431.41,480.86 432.26,480.02 433.06,479.29 433.79,478.66 434.48,478.12 435.12,477.66 435.72,477.26 436.27,476.92 436.79,476.63 437.28,476.38 437.74,476.17 438.17,475.99 438.58,475.83 438.97,475.7 439.33,475.59 439.68,475.5 440.01,475.42 440.34,475.36 440.65,475.31 440.95,475.27 441.24,475.24 441.53,475.22 441.82,475.2 442.1,475.2 442.41,475.2 442.72,475.22 443.04,475.24 443.36,475.27 443.69,475.31 444.03,475.36 444.39,475.42 444.75,475.5 445.14,475.59 445.54,475.7 445.96,475.83 446.41,475.99 446.88,476.17 447.38,476.38 447.92,476.63 448.49,476.92 449.1,477.26 449.75,477.66 450.45,478.12 451.21,478.66 452.01,479.29 452.88,480.02 453.82,480.86 454.83,481.84 455.92,482.97 457.09,484.27 458.36,485.77 459.72,487.5" fill="none" stroke="#D3D8E5" stroke-width="1.0" stroke-linejoin="round"/>
<polyline points="375.78,487.5 376.59,486.9 377.34,486.39 378.03,485.94 378.68,485.56 379.27,485.24 379.83,484.96 380.34,484.72 380.82,484.51 381.26,484.34 381.68,484.19 382.06,484.06 382.42,483.95 382.76,483.86 383.08,483.78 383.38,483.71 383.66,483.65 383.92,483.6 384.17,483.56 384.41,483.52 384.63,483.49 384.85,483.47 385.06,483.45 385.26,483.43 385.45,483.42 385.64,483.41 385.83,483.41 386.02,483.4 386.2,483.4 386.37,483.4 386.54,483.41 386.71,483.41 386.88,483.42 387.06,483.43 387.24,483.45 387.43,483.47 387.63,483.49 387.84,483.52 388.05,483.56 388.28,483.6 388.52,483.65 388.78,483.71 389.05,483.78 389.34,483.86 389.64,483.95 389.97,484.06 390.33,484.19 390.7,484.34 391.11,484.51 391.55,484.72 392.02,484.96 392.52,485.24 393.06,485.56 393.65,485.94 394.28,486.39 394.97,486.9 395.7,487.5" fill="none" stroke="#D3D8E5" stroke-width="1.0" stroke-linejoin="round"/>
<polyline points="432.6,487.5 433.33,486.9 434.02,486.39 434.65,485.94 435.24,485.56 435.78,485.24 436.28,484.96 436.75,484.72 437.19,484.51 437.6,484.34 437.97,484.19 438.33,484.06 438.66,483.95 438.96,483.86 439.25,483.78 439.52,483.71 439.78,483.65 440.02,483.6 440.25,483.56 440.46,483.52 440.67,483.49 440.87,483.47 441.06,483.45 441.24,483.43 441.42,483.42 441.59,483.41 441.76,483.41 441.93,483.4 442.1,483.4 442.28,483.4 442.47,483.41 442.66,483.41 442.85,483.42 443.04,483.43 443.24,483.45 443.45,483.47 443.67,483.49 443.89,483.52 444.13,483.56 444.38,483.6 444.64,483.65 444.92,483.71 445.22,483.78 445.54,483.86 445.88,483.95 446.24,484.06 446.62,484.19 447.04,484.34 447.48,484.51 447.96,484.72 448.47,484.96 449.03,485.24 449.62,485.56 450.27,485.94 450.96,486.39 451.71,486.9 452.52,487.5" fill="none" stroke="#D3D8E5" stroke-width="1.0" stroke-linejoin="round"/>
<linearGradient id="g5" gradientUnits="userSpaceOnUse" x1="0" y1="408" x2="0" y2="425"><stop offset="0" stop-color="#E9A88C"/><stop offset="1" stop-color="#D3D8E5"/></linearGradient>
<polyline points="351.33,487.5 354.03,480.54 356.54,474.1 358.86,468.15 361.01,462.64 363.01,457.55 364.86,452.83 366.58,448.47 368.18,444.43 369.67,440.7 371.06,437.24 372.35,434.05 373.56,431.09 374.69,428.35 375.75,425.83 376.74,423.49 377.68,421.34 378.56,419.36 379.4,417.54 380.19,415.88 380.95,414.37 381.68,413.02 382.37,411.82 383.05,410.78 383.7,409.91 384.34,409.22 384.97,408.71 385.58,408.4 386.2,408.3 386.76,408.4 387.33,408.71 387.9,409.22 388.48,409.91 389.08,410.78 389.69,411.82 390.33,413.02 390.99,414.37 391.68,415.88 392.4,417.54 393.17,419.36 393.97,421.34 394.83,423.49 395.73,425.83 396.7,428.35 397.73,431.09 398.83,434.05 400.01,437.24 401.28,440.7 402.64,444.43 404.1,448.47 405.67,452.83 407.36,457.55 409.18,462.64 411.14,468.15 413.26,474.1 415.55,480.54 418.01,487.5" fill="none" stroke="url(#g5)" stroke-width="1.0" stroke-linejoin="round"/>
<linearGradient id="g6" gradientUnits="userSpaceOnUse" x1="0" y1="408" x2="0" y2="425"><stop offset="0" stop-color="#E9A88C"/><stop offset="1" stop-color="#D3D8E5"/></linearGradient>
<polyline points="410.29,487.5 412.75,480.54 415.04,474.1 417.16,468.15 419.12,462.64 420.94,457.55 422.63,452.83 424.2,448.47 425.66,444.43 427.02,440.7 428.29,437.24 429.47,434.05 430.57,431.09 431.6,428.35 432.57,425.83 433.47,423.49 434.33,421.34 435.13,419.36 435.9,417.54 436.62,415.88 437.31,414.37 437.97,413.02 438.61,411.82 439.22,410.78 439.82,409.91 440.4,409.22 440.97,408.71 441.54,408.4 442.1,408.3 442.72,408.4 443.33,408.71 443.96,409.22 444.6,409.91 445.25,410.78 445.93,411.82 446.62,413.02 447.35,414.37 448.11,415.88 448.9,417.54 449.74,419.36 450.62,421.34 451.56,423.49 452.55,425.83 453.61,428.35 454.74,431.09 455.95,434.05 457.24,437.24 458.63,440.7 460.12,444.43 461.72,448.47 463.44,452.83 465.29,457.55 467.29,462.64 469.44,468.15 471.76,474.1 474.27,480.54 476.97,487.5" fill="none" stroke="url(#g6)" stroke-width="1.0" stroke-linejoin="round"/>
<linearGradient id="g7" gradientUnits="userSpaceOnUse" x1="0" y1="390" x2="0" y2="370"><stop offset="0" stop-color="#5670D6"/><stop offset="1" stop-color="#D3D8E5"/></linearGradient>
<polyline points="386.2,390 385.64,389.68 385.08,388.86 384.52,387.75 383.94,386.48 383.35,385.11 382.74,383.65 382.11,382.11 381.45,380.48 380.77,378.77 380.05,376.97 379.29,375.07 378.49,373.05 377.65,370.9 376.75,368.62 375.79,366.18 374.77,363.58 373.68,360.8 372.51,357.81 371.25,354.61 369.9,351.17 368.46,347.48 366.9,343.5 365.22,339.21 363.42,334.6 361.47,329.62 359.37,324.25 357.1,318.45 354.66,312.2" fill="none" stroke="url(#g7)" stroke-width="1.2" stroke-linejoin="round"/>
<linearGradient id="g8" gradientUnits="userSpaceOnUse" x1="0" y1="390" x2="0" y2="370"><stop offset="0" stop-color="#5670D6"/><stop offset="1" stop-color="#D3D8E5"/></linearGradient>
<polyline points="442.1,390 442.66,389.68 443.22,388.86 443.78,387.75 444.36,386.48 444.95,385.11 445.56,383.65 446.19,382.11 446.85,380.48 447.53,378.77 448.25,376.97 449.01,375.07 449.81,373.05 450.65,370.9 451.55,368.62 452.51,366.18 453.53,363.58 454.62,360.8 455.79,357.81 457.05,354.61 458.4,351.17 459.84,347.48 461.4,343.5 463.08,339.21 464.88,334.6 466.83,329.62 468.93,324.25 471.2,318.45 473.64,312.2" fill="none" stroke="url(#g8)" stroke-width="1.2" stroke-linejoin="round"/>
<linearGradient id="g9" gradientUnits="userSpaceOnUse" x1="0" y1="399" x2="0" y2="420"><stop offset="0" stop-color="#D65E5E"/><stop offset="1" stop-color="#D3D8E5"/></linearGradient>
<polyline points="386.2,399.2 385.58,399.58 384.95,400.55 384.32,401.84 383.68,403.29 383.02,404.87 382.34,406.53 381.64,408.29 380.91,410.13 380.14,412.07 379.34,414.12 378.5,416.28 377.61,418.57 376.66,421 375.66,423.59 374.59,426.35 373.45,429.3 372.23,432.45 370.93,435.83 369.53,439.46 368.03,443.36 366.41,447.54 364.68,452.05 362.81,456.9 360.79,462.13 358.62,467.77 356.28,473.85 353.76,480.42 351.03,487.5" fill="none" stroke="url(#g9)" stroke-width="1.2" stroke-linejoin="round"/>
<linearGradient id="g10" gradientUnits="userSpaceOnUse" x1="0" y1="399" x2="0" y2="420"><stop offset="0" stop-color="#D65E5E"/><stop offset="1" stop-color="#D3D8E5"/></linearGradient>
<polyline points="442.1,399.2 442.72,399.58 443.35,400.55 443.98,401.84 444.62,403.29 445.28,404.87 445.96,406.53 446.66,408.29 447.39,410.13 448.16,412.07 448.96,414.12 449.8,416.28 450.69,418.57 451.64,421 452.64,423.59 453.71,426.35 454.85,429.3 456.07,432.45 457.37,435.83 458.77,439.46 460.27,443.36 461.89,447.54 463.62,452.05 465.49,456.9 467.51,462.13 469.68,467.77 472.02,473.85 474.54,480.42 477.27,487.5" fill="none" stroke="url(#g10)" stroke-width="1.2" stroke-linejoin="round"/>
<line x1="326.3" y1="470" x2="502" y2="470" stroke="#231815" stroke-width="2" stroke-dasharray="7.3 7.42" stroke-dashoffset="14.62"/>
<path d="M386.2,390 C386.43,390.05 387.13,390.19 387.6,390.28 C388.06,390.38 388.53,390.47 389,390.56 C389.46,390.66 389.93,390.75 390.39,390.84 C390.86,390.93 391.32,391.02 391.79,391.11 C392.26,391.2 392.72,391.29 393.19,391.38 C393.65,391.46 394.12,391.55 394.58,391.63 C395.05,391.72 395.52,391.8 395.98,391.88 C396.45,391.96 396.91,392.04 397.38,392.12 C397.85,392.19 398.31,392.27 398.78,392.34 C399.24,392.41 399.71,392.48 400.18,392.55 C400.64,392.61 401.11,392.68 401.57,392.74 C402.04,392.8 402.5,392.86 402.97,392.91 C403.44,392.97 403.9,393.02 404.37,393.07 C404.83,393.12 405.3,393.16 405.76,393.21 C406.23,393.25 406.7,393.29 407.16,393.33 C407.63,393.36 408.09,393.39 408.56,393.42 C409.03,393.45 409.49,393.48 409.96,393.5 C410.42,393.52 410.89,393.54 411.36,393.56 C411.82,393.57 412.29,393.58 412.75,393.59 C413.22,393.6 413.68,393.6 414.15,393.6 C414.62,393.6 415.08,393.6 415.55,393.59 C416.01,393.58 416.48,393.57 416.94,393.56 C417.41,393.54 417.88,393.52 418.34,393.5 C418.81,393.48 419.27,393.45 419.74,393.42 C420.21,393.39 420.67,393.36 421.14,393.33 C421.6,393.29 422.07,393.25 422.54,393.21 C423,393.16 423.47,393.12 423.93,393.07 C424.4,393.02 424.86,392.97 425.33,392.91 C425.8,392.86 426.26,392.8 426.73,392.74 C427.19,392.68 427.66,392.61 428.12,392.55 C428.59,392.48 429.06,392.41 429.52,392.34 C429.99,392.27 430.45,392.19 430.92,392.12 C431.39,392.04 431.85,391.96 432.32,391.88 C432.78,391.8 433.25,391.72 433.72,391.63 C434.18,391.55 434.65,391.46 435.11,391.38 C435.58,391.29 436.04,391.2 436.51,391.11 C436.98,391.02 437.44,390.93 437.91,390.84 C438.37,390.75 438.84,390.66 439.31,390.56 C439.77,390.47 440.24,390.38 440.7,390.28 C441.17,390.19 441.87,390.05 442.1,390" fill="none" stroke="#5670D6" stroke-width="1.25" stroke-linecap="round"/>
<path d="M386.2,399.2 C386.43,399.24 387.13,399.37 387.6,399.46 C388.06,399.54 388.53,399.63 389,399.72 C389.46,399.8 389.93,399.89 390.39,399.97 C390.86,400.05 391.32,400.14 391.79,400.22 C392.26,400.3 392.72,400.38 393.19,400.46 C393.65,400.54 394.12,400.62 394.58,400.7 C395.05,400.78 395.52,400.85 395.98,400.92 C396.45,401 396.91,401.07 397.38,401.14 C397.85,401.21 398.31,401.28 398.78,401.34 C399.24,401.41 399.71,401.47 400.18,401.53 C400.64,401.59 401.11,401.65 401.57,401.71 C402.04,401.77 402.5,401.82 402.97,401.87 C403.44,401.92 403.9,401.97 404.37,402.01 C404.83,402.06 405.3,402.1 405.76,402.14 C406.23,402.18 406.7,402.22 407.16,402.25 C407.63,402.28 408.09,402.31 408.56,402.34 C409.03,402.37 409.49,402.39 409.96,402.41 C410.42,402.43 410.89,402.45 411.36,402.46 C411.82,402.47 412.29,402.48 412.75,402.49 C413.22,402.5 413.68,402.5 414.15,402.5 C414.62,402.5 415.08,402.5 415.55,402.49 C416.01,402.48 416.48,402.47 416.94,402.46 C417.41,402.45 417.88,402.43 418.34,402.41 C418.81,402.39 419.27,402.37 419.74,402.34 C420.21,402.31 420.67,402.28 421.14,402.25 C421.6,402.22 422.07,402.18 422.54,402.14 C423,402.1 423.47,402.06 423.93,402.01 C424.4,401.97 424.86,401.92 425.33,401.87 C425.8,401.82 426.26,401.77 426.73,401.71 C427.19,401.65 427.66,401.59 428.12,401.53 C428.59,401.47 429.06,401.41 429.52,401.34 C429.99,401.28 430.45,401.21 430.92,401.14 C431.39,401.07 431.85,401 432.32,400.92 C432.78,400.85 433.25,400.78 433.72,400.7 C434.18,400.62 434.65,400.54 435.11,400.46 C435.58,400.38 436.04,400.3 436.51,400.22 C436.98,400.14 437.44,400.05 437.91,399.97 C438.37,399.89 438.84,399.8 439.31,399.72 C439.77,399.63 440.24,399.54 440.7,399.46 C441.17,399.37 441.87,399.24 442.1,399.2" fill="none" stroke="#D65E5E" stroke-width="1.25" stroke-linecap="round"/>
<path d="M326.3,404.3 C327.03,404.3 329.23,404.3 330.69,404.3 C332.16,404.3 333.62,404.3 335.09,404.3 C336.55,404.3 338.01,404.3 339.48,404.3 C340.94,404.3 342.41,404.3 343.87,404.3 C345.33,404.3 346.8,404.3 348.26,404.3 C349.73,404.29 351.19,404.29 352.66,404.29 C354.12,404.28 355.58,404.28 357.05,404.27 C358.51,404.26 359.98,404.26 361.44,404.24 C362.9,404.23 364.37,404.21 365.83,404.19 C367.3,404.18 368.76,404.15 370.23,404.12 C371.69,404.1 373.15,404.07 374.62,404.03 C376.08,403.99 377.55,403.95 379.01,403.91 C380.47,403.86 381.94,403.81 383.4,403.76 C384.87,403.71 386.33,403.65 387.8,403.6 C389.26,403.54 390.72,403.49 392.19,403.43 C393.65,403.37 395.12,403.32 396.58,403.26 C398.04,403.21 399.51,403.16 400.97,403.12 C402.44,403.07 403.9,403.03 405.37,403 C406.83,402.97 408.29,402.94 409.76,402.93 C411.22,402.91 412.69,402.9 414.15,402.9 C415.61,402.9 417.08,402.91 418.54,402.93 C420.01,402.94 421.47,402.97 422.94,403 C424.4,403.03 425.86,403.07 427.33,403.12 C428.79,403.16 430.26,403.21 431.72,403.26 C433.18,403.32 434.65,403.37 436.11,403.43 C437.58,403.49 439.04,403.54 440.5,403.6 C441.97,403.65 443.43,403.71 444.9,403.76 C446.36,403.81 447.83,403.86 449.29,403.91 C450.75,403.95 452.22,403.99 453.68,404.03 C455.15,404.07 456.61,404.1 458.08,404.12 C459.54,404.15 461,404.18 462.47,404.19 C463.93,404.21 465.4,404.23 466.86,404.24 C468.32,404.26 469.79,404.26 471.25,404.27 C472.72,404.28 474.18,404.28 475.64,404.29 C477.11,404.29 478.57,404.29 480.04,404.3 C481.5,404.3 482.97,404.3 484.43,404.3 C485.89,404.3 487.36,404.3 488.82,404.3 C490.29,404.3 491.75,404.3 493.22,404.3 C494.68,404.3 496.14,404.3 497.61,404.3 C499.07,404.3 501.27,404.3 502,404.3" fill="none" stroke="#5670D6" stroke-width="1.25" stroke-linecap="round"/>
<path d="M326.3,412.9 C327.03,412.9 329.23,412.9 330.69,412.9 C332.16,412.9 333.62,412.89 335.09,412.89 C336.55,412.89 338.01,412.88 339.48,412.88 C340.94,412.87 342.41,412.87 343.87,412.86 C345.33,412.86 346.8,412.85 348.26,412.84 C349.73,412.83 351.19,412.83 352.66,412.82 C354.12,412.81 355.58,412.8 357.05,412.79 C358.51,412.78 359.98,412.77 361.44,412.76 C362.9,412.75 364.37,412.74 365.83,412.73 C367.3,412.72 368.76,412.71 370.23,412.7 C371.69,412.69 373.15,412.68 374.62,412.67 C376.08,412.66 377.55,412.65 379.01,412.64 C380.47,412.63 381.94,412.62 383.4,412.61 C384.87,412.6 386.33,412.59 387.8,412.58 C389.26,412.57 390.72,412.57 392.19,412.56 C393.65,412.55 395.12,412.54 396.58,412.54 C398.04,412.53 399.51,412.53 400.97,412.52 C402.44,412.52 403.9,412.51 405.37,412.51 C406.83,412.51 408.29,412.5 409.76,412.5 C411.22,412.5 412.69,412.5 414.15,412.5 C415.61,412.5 417.08,412.5 418.54,412.5 C420.01,412.5 421.47,412.51 422.94,412.51 C424.4,412.51 425.86,412.52 427.33,412.52 C428.79,412.53 430.26,412.53 431.72,412.54 C433.18,412.54 434.65,412.55 436.11,412.56 C437.58,412.57 439.04,412.57 440.5,412.58 C441.97,412.59 443.43,412.6 444.9,412.61 C446.36,412.62 447.83,412.63 449.29,412.64 C450.75,412.65 452.22,412.66 453.68,412.67 C455.15,412.68 456.61,412.69 458.08,412.7 C459.54,412.71 461,412.72 462.47,412.73 C463.93,412.74 465.4,412.75 466.86,412.76 C468.32,412.77 469.79,412.78 471.25,412.79 C472.72,412.8 474.18,412.81 475.64,412.82 C477.11,412.83 478.57,412.83 480.04,412.84 C481.5,412.85 482.97,412.86 484.43,412.86 C485.89,412.87 487.36,412.87 488.82,412.88 C490.29,412.88 491.75,412.89 493.22,412.89 C494.68,412.89 496.14,412.9 497.61,412.9 C499.07,412.9 501.27,412.9 502,412.9" fill="none" stroke="#D65E5E" stroke-width="1.25" stroke-linecap="round"/>
<path d="M326.3,430.6 C327.03,430.59 329.23,430.58 330.69,430.55 C332.16,430.52 333.62,430.48 335.09,430.41 C336.55,430.35 338.01,430.28 339.48,430.19 C340.94,430.1 342.41,429.99 343.87,429.87 C345.33,429.76 346.8,429.63 348.26,429.49 C349.73,429.35 351.19,429.19 352.66,429.03 C354.12,428.87 355.58,428.7 357.05,428.53 C358.51,428.35 359.98,428.16 361.44,427.97 C362.9,427.79 364.37,427.59 365.83,427.39 C367.3,427.2 368.76,427 370.23,426.8 C371.69,426.6 373.15,426.4 374.62,426.21 C376.08,426.01 377.55,425.81 379.01,425.63 C380.47,425.44 381.94,425.25 383.4,425.07 C384.87,424.9 386.33,424.73 387.8,424.57 C389.26,424.41 390.72,424.25 392.19,424.11 C393.65,423.97 395.12,423.84 396.58,423.73 C398.04,423.61 399.51,423.5 400.97,423.41 C402.44,423.32 403.9,423.25 405.37,423.19 C406.83,423.12 408.29,423.08 409.76,423.05 C411.22,423.02 412.69,423 414.15,423 C415.61,423 417.08,423.02 418.54,423.05 C420.01,423.08 421.47,423.12 422.94,423.19 C424.4,423.25 425.86,423.32 427.33,423.41 C428.79,423.5 430.26,423.61 431.72,423.73 C433.18,423.84 434.65,423.97 436.11,424.11 C437.58,424.25 439.04,424.41 440.5,424.57 C441.97,424.73 443.43,424.9 444.9,425.07 C446.36,425.25 447.83,425.44 449.29,425.63 C450.75,425.81 452.22,426.01 453.68,426.21 C455.15,426.4 456.61,426.6 458.08,426.8 C459.54,427 461,427.2 462.47,427.39 C463.93,427.59 465.4,427.79 466.86,427.97 C468.32,428.16 469.79,428.35 471.25,428.53 C472.72,428.7 474.18,428.87 475.64,429.03 C477.11,429.19 478.57,429.35 480.04,429.49 C481.5,429.63 482.97,429.76 484.43,429.87 C485.89,429.99 487.36,430.1 488.82,430.19 C490.29,430.28 491.75,430.35 493.22,430.41 C494.68,430.48 496.14,430.52 497.61,430.55 C499.07,430.58 501.27,430.59 502,430.6" fill="none" stroke="#5670D6" stroke-width="1.25" stroke-linecap="round"/>
<path d="M326.3,439.3 C327.03,439.29 329.23,439.28 330.69,439.25 C332.16,439.22 333.62,439.18 335.09,439.12 C336.55,439.06 338.01,438.98 339.48,438.89 C340.94,438.8 342.41,438.7 343.87,438.58 C345.33,438.47 346.8,438.34 348.26,438.2 C349.73,438.06 351.19,437.91 352.66,437.75 C354.12,437.6 355.58,437.43 357.05,437.25 C358.51,437.08 359.98,436.89 361.44,436.71 C362.9,436.52 364.37,436.33 365.83,436.14 C367.3,435.94 368.76,435.75 370.23,435.55 C371.69,435.35 373.15,435.16 374.62,434.96 C376.08,434.77 377.55,434.58 379.01,434.39 C380.47,434.21 381.94,434.02 383.4,433.85 C384.87,433.67 386.33,433.5 387.8,433.35 C389.26,433.19 390.72,433.04 392.19,432.9 C393.65,432.76 395.12,432.63 396.58,432.52 C398.04,432.4 399.51,432.3 400.97,432.21 C402.44,432.12 403.9,432.04 405.37,431.98 C406.83,431.92 408.29,431.88 409.76,431.85 C411.22,431.82 412.69,431.8 414.15,431.8 C415.61,431.8 417.08,431.82 418.54,431.85 C420.01,431.88 421.47,431.92 422.94,431.98 C424.4,432.04 425.86,432.12 427.33,432.21 C428.79,432.3 430.26,432.4 431.72,432.52 C433.18,432.63 434.65,432.76 436.11,432.9 C437.58,433.04 439.04,433.19 440.5,433.35 C441.97,433.5 443.43,433.67 444.9,433.85 C446.36,434.02 447.83,434.21 449.29,434.39 C450.75,434.58 452.22,434.77 453.68,434.96 C455.15,435.16 456.61,435.35 458.08,435.55 C459.54,435.75 461,435.94 462.47,436.14 C463.93,436.33 465.4,436.52 466.86,436.71 C468.32,436.89 469.79,437.08 471.25,437.25 C472.72,437.43 474.18,437.6 475.64,437.75 C477.11,437.91 478.57,438.06 480.04,438.2 C481.5,438.34 482.97,438.47 484.43,438.58 C485.89,438.7 487.36,438.8 488.82,438.89 C490.29,438.98 491.75,439.06 493.22,439.12 C494.68,439.18 496.14,439.22 497.61,439.25 C499.07,439.28 501.27,439.29 502,439.3" fill="none" stroke="#D65E5E" stroke-width="1.25" stroke-linecap="round"/>
</g>
<line x1="326.3" y1="434.9" x2="329.3" y2="434.9" stroke="#2e2e2e" stroke-width="1.6" />
<line x1="502" y1="434.9" x2="499" y2="434.9" stroke="#2e2e2e" stroke-width="1.6" />
<line x1="326.3" y1="399.8" x2="329.3" y2="399.8" stroke="#2e2e2e" stroke-width="1.6" />
<line x1="502" y1="399.8" x2="499" y2="399.8" stroke="#2e2e2e" stroke-width="1.6" />
<line x1="326.3" y1="364.7" x2="329.3" y2="364.7" stroke="#2e2e2e" stroke-width="1.6" />
<line x1="502" y1="364.7" x2="499" y2="364.7" stroke="#2e2e2e" stroke-width="1.6" />
<line x1="326.3" y1="329.6" x2="329.3" y2="329.6" stroke="#2e2e2e" stroke-width="1.6" />
<line x1="502" y1="329.6" x2="499" y2="329.6" stroke="#2e2e2e" stroke-width="1.6" />
<line x1="414.15" y1="312.2" x2="414.15" y2="315.2" stroke="#2e2e2e" stroke-width="1.6" />
<line x1="414.15" y1="487.5" x2="414.15" y2="484.5" stroke="#2e2e2e" stroke-width="1.6" />
<rect x="326.3" y="312.2" width="175.7" height="175.3" fill="none" stroke="#2e2e2e" stroke-width="2.0"/>
<text x="321.8" y="335.7" font-size="22.8" text-anchor="end" fill="#231815" font-family="Liberation Sans" >0.8</text>
<text x="321.8" y="406" font-size="22.8" text-anchor="end" fill="#231815" font-family="Liberation Sans" >0.4</text>
<text x="318.5" y="477.8" font-size="22.8" text-anchor="end" fill="#231815" font-family="Liberation Sans" >0</text>
<text x="326.9" y="510" font-size="22.8" text-anchor="middle" fill="#231815" font-family="Liberation Sans" >0</text>
<text x="413.8" y="510" font-size="22.8" text-anchor="middle" fill="#231815" font-family="Liberation Sans" >&#960;</text>
<text x="500.5" y="510" font-size="22.8" text-anchor="middle" fill="#231815" font-family="Liberation Sans" >2&#960;</text>
<text x="372.2" y="535.6" font-size="25.5" letter-spacing="0.55" fill="#231815" font-family="Liberation Sans">k<tspan font-size="15" dy="1">x</tspan><tspan dy="-1" dx="3.5">(1/a)</tspan></text>
<clipPath id="cdl"><rect x="588.2" y="311.5" width="177.0" height="177.2"/></clipPath>
<g clip-path="url(#cdl)">
<line x1="632.4" y1="311.5" x2="632.4" y2="488.7" stroke="#B8B8B8" stroke-width="2" />
<line x1="721.1" y1="311.5" x2="721.1" y2="488.7" stroke="#B8B8B8" stroke-width="2" />
<polyline points="622.6,311.5 623.11,315.19 623.61,318.88 624.12,322.57 624.62,326.25 625.12,329.93 625.63,333.61 626.13,337.29 626.64,340.96 627.15,344.63 627.65,348.29 628.16,351.94 628.66,355.58 629.17,359.19 629.67,362.79 630.18,366.34 630.68,369.82 631.19,373.17 631.69,376.27 632.2,378.75 632.7,379.8 633.21,378.75 633.71,376.27 634.22,373.17 634.72,369.82 635.23,366.34 635.73,362.79 636.24,359.19 636.74,355.58 637.25,351.94 637.75,348.29 638.25,344.63 638.76,340.96 639.27,337.29 639.77,333.61 640.28,329.93 640.78,326.25 641.29,322.57 641.79,318.88 642.3,315.19 642.8,311.5" fill="none" stroke="#0072BD" stroke-width="2.1" stroke-linejoin="round"/>
<polyline points="621.6,488.7 622.15,484.59 622.69,480.48 623.24,476.37 623.79,472.27 624.34,468.16 624.88,464.06 625.43,459.96 625.98,455.86 626.53,451.77 627.07,447.68 627.62,443.59 628.17,439.52 628.72,435.45 629.26,431.41 629.81,427.39 630.36,423.41 630.91,419.53 631.45,415.83 632,412.68 632.55,411.2 633.1,412.68 633.64,415.83 634.19,419.53 634.74,423.41 635.29,427.39 635.83,431.41 636.38,435.45 636.93,439.52 637.48,443.59 638.02,447.68 638.57,451.77 639.12,455.86 639.67,459.96 640.21,464.06 640.76,468.16 641.31,472.27 641.86,476.37 642.4,480.48 642.95,484.59 643.5,488.7" fill="none" stroke="#0072BD" stroke-width="2.1" stroke-linejoin="round"/>
<polyline points="710.7,311.5 711.22,315.53 711.75,319.56 712.27,323.59 712.79,327.61 713.31,331.64 713.83,335.67 714.36,339.7 714.88,343.72 715.4,347.74 715.92,351.77 716.45,355.79 716.97,359.8 717.49,363.82 718.01,367.82 718.54,371.82 719.06,375.79 719.58,379.74 720.11,383.6 720.63,387.17 721.15,389.2 721.67,387.17 722.19,383.6 722.72,379.74 723.24,375.79 723.76,371.82 724.28,367.82 724.81,363.82 725.33,359.8 725.85,355.79 726.38,351.77 726.9,347.74 727.42,343.72 727.94,339.7 728.46,335.67 728.99,331.64 729.51,327.61 730.03,323.59 730.55,319.56 731.08,315.53 731.6,311.5" fill="none" stroke="#0072BD" stroke-width="2.1" stroke-linejoin="round"/>
<polyline points="710,488.7 710.56,484.27 711.12,479.84 711.67,475.41 712.23,470.98 712.79,466.55 713.35,462.12 713.9,457.69 714.46,453.26 715.02,448.83 715.57,444.4 716.13,439.98 716.69,435.55 717.25,431.13 717.8,426.72 718.36,422.31 718.92,417.91 719.48,413.53 720.03,409.21 720.59,405.09 721.15,402.5 721.71,405.09 722.26,409.21 722.82,413.53 723.38,417.91 723.94,422.31 724.5,426.72 725.05,431.13 725.61,435.55 726.17,439.98 726.73,444.4 727.28,448.83 727.84,453.26 728.4,457.69 728.95,462.12 729.51,466.55 730.07,470.98 730.63,475.41 731.18,479.84 731.74,484.27 732.3,488.7" fill="none" stroke="#0072BD" stroke-width="2.1" stroke-linejoin="round"/>
<line x1="588.2" y1="399.8" x2="765.2" y2="399.8" stroke="#231815" stroke-width="2" stroke-dasharray="7.3 7.42" stroke-dashoffset="14.52"/>
</g>
<rect x="588.2" y="311.5" width="177" height="177.2" fill="none" stroke="#2e2e2e" stroke-width="2.0"/>
<text x="580" y="316.8" font-size="22.8" text-anchor="end" fill="#231815" font-family="Liberation Sans" >0.5</text>
<text x="581" y="407.5" font-size="22.8" text-anchor="end" fill="#231815" font-family="Liberation Sans" >0</text>
<text x="581" y="495.2" font-size="22.8" text-anchor="end" fill="#231815" font-family="Liberation Sans" >-0.5</text>
<text x="590.5" y="513.3" font-size="22.5" text-anchor="middle" fill="#231815" font-family="Liberation Sans" >&#915;</text>
<text x="635.2" y="513.3" font-size="22.5" text-anchor="middle" fill="#231815" font-family="Liberation Sans" >K</text>
<text x="726.5" y="513.3" font-size="22.5" text-anchor="middle" fill="#231815" font-family="Liberation Sans" >K&#8217;</text>
<text x="766" y="513.3" font-size="22.5" text-anchor="middle" fill="#231815" font-family="Liberation Sans" >&#915;</text>
<text x="597.5" y="298.7" font-size="22" letter-spacing="0.2" fill="#231815" font-family="Liberation Sans">k<tspan font-size="15" dy="0.5">z</tspan><tspan dy="-0.5" dx="4">= +0.25 (2&#960;/d)</tspan></text>
<text x="510.2" y="281.8" font-size="29.5" text-anchor="start" fill="#231815" font-family="Liberation Sans" style="stroke:none">(d)</text>
<clipPath id="cdr"><rect x="824.4" y="311.3" width="176.20000000000005" height="176.09999999999997"/></clipPath>
<g clip-path="url(#cdr)">
<polyline points="969.05,311.3 966.81,318.16 964.73,324.46 962.8,330.24 961.02,335.54 959.36,340.38 957.82,344.8 956.39,348.84 955.06,352.51 953.82,355.84 952.67,358.86 951.6,361.58 950.59,364.03 949.66,366.24 948.78,368.21 947.95,369.96 947.17,371.51 946.44,372.88 945.75,374.08 945.09,375.12 944.46,376.02 943.86,376.78 943.28,377.43 942.72,377.95 942.18,378.37 941.65,378.7 941.13,378.92 940.61,379.06 940.1,379.1 939.67,379.06 939.23,378.92 938.79,378.7 938.34,378.37 937.87,377.95 937.4,377.43 936.91,376.78 936.4,376.02 935.86,375.12 935.3,374.08 934.71,372.88 934.09,371.51 933.43,369.96 932.72,368.21 931.98,366.24 931.18,364.03 930.33,361.58 929.41,358.86 928.44,355.84 927.38,352.51 926.25,348.84 925.04,344.8 923.73,340.38 922.32,335.54 920.8,330.24 919.16,324.46 917.4,318.16 915.49,311.3" fill="none" stroke="#D3D8E5" stroke-width="1.0" stroke-linejoin="round"/>
<polyline points="967.85,311.3 965.7,317.58 963.71,323.32 961.86,328.53 960.15,333.28 958.56,337.57 957.08,341.46 955.71,344.96 954.44,348.11 953.25,350.94 952.15,353.46 951.12,355.71 950.16,357.7 949.26,359.47 948.42,361.02 947.62,362.38 946.88,363.57 946.18,364.6 945.51,365.5 944.88,366.26 944.28,366.92 943.7,367.47 943.15,367.93 942.61,368.3 942.09,368.59 941.58,368.82 941.08,368.98 940.59,369.07 940.1,369.1 939.68,369.07 939.26,368.98 938.84,368.82 938.41,368.59 937.97,368.3 937.51,367.93 937.04,367.47 936.55,366.92 936.04,366.26 935.5,365.5 934.93,364.6 934.34,363.57 933.7,362.38 933.03,361.02 932.32,359.47 931.55,357.7 930.73,355.71 929.86,353.46 928.92,350.94 927.91,348.11 926.83,344.96 925.67,341.46 924.41,337.57 923.06,333.28 921.6,328.53 920.03,323.32 918.34,317.58 916.51,311.3" fill="none" stroke="#D3D8E5" stroke-width="1.0" stroke-linejoin="round"/>
<polyline points="966.28,311.3 964.25,316.87 962.37,321.92 960.63,326.47 959.01,330.56 957.51,334.24 956.12,337.53 954.83,340.46 953.63,343.07 952.51,345.38 951.47,347.42 950.5,349.22 949.59,350.8 948.74,352.17 947.95,353.38 947.2,354.42 946.5,355.32 945.83,356.1 945.21,356.77 944.61,357.33 944.04,357.81 943.5,358.22 942.97,358.55 942.47,358.82 941.98,359.04 941.5,359.2 941.03,359.31 940.56,359.38 940.1,359.4 939.71,359.38 939.31,359.31 938.91,359.2 938.5,359.04 938.09,358.82 937.66,358.55 937.21,358.22 936.75,357.81 936.27,357.33 935.76,356.77 935.23,356.1 934.66,355.32 934.07,354.42 933.43,353.38 932.75,352.17 932.03,350.8 931.26,349.22 930.44,347.42 929.55,345.38 928.6,343.07 927.58,340.46 926.48,337.53 925.3,334.24 924.02,330.56 922.65,326.47 921.17,321.92 919.57,316.87 917.84,311.3" fill="none" stroke="#D3D8E5" stroke-width="1.0" stroke-linejoin="round"/>
<polyline points="964.08,311.3 962.22,315.95 960.5,320.12 958.9,323.84 957.42,327.15 956.05,330.09 954.77,332.69 953.59,334.98 952.49,337 951.46,338.76 950.51,340.31 949.62,341.65 948.79,342.82 948.01,343.84 947.29,344.71 946.6,345.47 945.96,346.12 945.35,346.68 944.78,347.15 944.23,347.55 943.71,347.89 943.21,348.17 942.73,348.41 942.27,348.6 941.82,348.75 941.38,348.86 940.95,348.94 940.52,348.98 940.1,349 939.74,348.98 939.38,348.94 939.01,348.86 938.64,348.75 938.26,348.6 937.86,348.41 937.46,348.17 937.03,347.89 936.59,347.55 936.13,347.15 935.64,346.68 935.12,346.12 934.57,345.47 933.99,344.71 933.37,343.84 932.71,342.82 932.01,341.65 931.25,340.31 930.44,338.76 929.57,337 928.63,334.98 927.63,332.69 926.54,330.09 925.38,327.15 924.12,323.84 922.76,320.12 921.3,315.95 919.72,311.3" fill="none" stroke="#D3D8E5" stroke-width="1.0" stroke-linejoin="round"/>
<polyline points="961.1,311.3 959.47,314.85 957.96,317.99 956.56,320.76 955.27,323.19 954.06,325.33 952.95,327.2 951.91,328.83 950.95,330.26 950.05,331.49 949.22,332.56 948.44,333.48 947.71,334.28 947.03,334.97 946.39,335.56 945.79,336.07 945.23,336.5 944.7,336.87 944.19,337.18 943.72,337.45 943.26,337.67 942.82,337.86 942.4,338.01 942,338.14 941.6,338.23 941.22,338.31 940.84,338.36 940.47,338.39 940.1,338.4 939.79,338.39 939.47,338.36 939.15,338.31 938.82,338.23 938.49,338.14 938.14,338.01 937.79,337.86 937.41,337.67 937.03,337.45 936.62,337.18 936.19,336.87 935.74,336.5 935.26,336.07 934.75,335.56 934.21,334.97 933.63,334.28 933.01,333.48 932.35,332.56 931.64,331.49 930.88,330.26 930.06,328.83 929.18,327.2 928.23,325.33 927.21,323.19 926.11,320.76 924.92,317.99 923.64,314.85 922.25,311.3" fill="none" stroke="#D3D8E5" stroke-width="1.0" stroke-linejoin="round"/>
<polyline points="957.31,311.3 955.97,313.67 954.74,315.74 953.59,317.54 952.53,319.12 951.54,320.48 950.63,321.66 949.78,322.69 948.99,323.57 948.26,324.33 947.57,324.99 946.93,325.55 946.34,326.04 945.78,326.45 945.26,326.81 944.77,327.11 944.3,327.37 943.87,327.59 943.46,327.78 943.06,327.94 942.69,328.07 942.33,328.18 941.99,328.27 941.66,328.34 941.33,328.4 941.02,328.45 940.71,328.48 940.4,328.49 940.1,328.5 939.84,328.49 939.58,328.48 939.32,328.45 939.05,328.4 938.78,328.34 938.5,328.27 938.2,328.18 937.9,328.07 937.58,327.94 937.25,327.78 936.9,327.59 936.53,327.37 936.13,327.11 935.72,326.81 935.27,326.45 934.8,326.04 934.29,325.55 933.75,324.99 933.17,324.33 932.54,323.57 931.87,322.69 931.15,321.66 930.37,320.48 929.53,319.12 928.63,317.54 927.66,315.74 926.61,313.67 925.47,311.3" fill="none" stroke="#D3D8E5" stroke-width="1.0" stroke-linejoin="round"/>
<polyline points="951.69,311.3 950.79,312.37 949.96,313.29 949.19,314.08 948.47,314.77 947.81,315.35 947.19,315.86 946.62,316.29 946.09,316.67 945.59,316.99 945.13,317.26 944.7,317.49 944.3,317.69 943.93,317.87 943.57,318.01 943.24,318.14 942.93,318.24 942.64,318.33 942.36,318.41 942.1,318.47 941.84,318.53 941.6,318.57 941.37,318.61 941.15,318.64 940.93,318.66 940.72,318.68 940.51,318.69 940.3,318.7 940.1,318.7 939.93,318.7 939.75,318.69 939.57,318.68 939.39,318.66 939.21,318.64 939.02,318.61 938.82,318.57 938.62,318.53 938.4,318.47 938.18,318.41 937.94,318.33 937.69,318.24 937.43,318.14 937.15,318.01 936.85,317.87 936.53,317.69 936.19,317.49 935.82,317.26 935.43,316.99 935.01,316.67 934.56,316.29 934.07,315.86 933.55,315.35 932.98,314.77 932.38,314.08 931.72,313.29 931.01,312.37 930.25,311.3" fill="none" stroke="#D3D8E5" stroke-width="1.0" stroke-linejoin="round"/>
<polyline points="908.21,311.3 906.28,317.86 904.5,323.87 902.85,329.36 901.32,334.36 899.9,338.92 898.58,343.06 897.36,346.81 896.22,350.2 895.16,353.26 894.17,356.01 893.25,358.47 892.39,360.67 891.59,362.63 890.83,364.36 890.13,365.89 889.46,367.23 888.83,368.41 888.24,369.43 887.67,370.31 887.13,371.06 886.62,371.7 886.12,372.23 885.64,372.66 885.18,373.01 884.72,373.27 884.28,373.45 883.84,373.56 883.4,373.6 882.91,373.56 882.42,373.45 881.92,373.27 881.42,373.01 880.9,372.66 880.37,372.23 879.81,371.7 879.24,371.06 878.64,370.31 878.01,369.43 877.34,368.41 876.64,367.23 875.9,365.89 875.11,364.36 874.27,362.63 873.38,360.67 872.42,358.47 871.39,356.01 870.29,353.26 869.11,350.2 867.84,346.81 866.48,343.06 865.01,338.92 863.42,334.36 861.72,329.36 859.87,323.87 857.89,317.86 855.74,311.3" fill="none" stroke="#D3D8E5" stroke-width="1.0" stroke-linejoin="round"/>
<polyline points="907.24,311.3 905.39,317.35 903.68,322.84 902.09,327.83 900.62,332.35 899.26,336.44 897.99,340.11 896.81,343.41 895.72,346.37 894.7,349.01 893.75,351.36 892.87,353.44 892.04,355.28 891.27,356.9 890.54,358.32 889.86,359.56 889.22,360.64 888.62,361.58 888.05,362.38 887.51,363.07 886.99,363.66 886.49,364.15 886.02,364.56 885.56,364.89 885.11,365.15 884.67,365.35 884.24,365.49 883.82,365.57 883.4,365.6 882.93,365.57 882.46,365.49 881.98,365.35 881.5,365.15 881,364.89 880.48,364.56 879.95,364.15 879.4,363.66 878.82,363.07 878.22,362.38 877.58,361.58 876.91,360.64 876.19,359.56 875.44,358.32 874.63,356.9 873.77,355.28 872.85,353.44 871.86,351.36 870.8,349.01 869.67,346.37 868.45,343.41 867.14,340.11 865.72,336.44 864.2,332.35 862.56,327.83 860.79,322.84 858.88,317.35 856.82,311.3" fill="none" stroke="#D3D8E5" stroke-width="1.0" stroke-linejoin="round"/>
<polyline points="905.85,311.3 904.11,316.64 902.5,321.46 901,325.8 899.62,329.69 898.33,333.18 897.14,336.29 896.03,339.05 895,341.5 894.04,343.66 893.15,345.56 892.31,347.24 891.54,348.7 890.81,349.97 890.13,351.08 889.49,352.04 888.88,352.87 888.32,353.59 887.78,354.2 887.27,354.72 886.78,355.16 886.31,355.52 885.86,355.83 885.43,356.07 885.01,356.27 884.6,356.42 884.19,356.52 883.8,356.58 883.4,356.6 882.96,356.58 882.51,356.52 882.06,356.42 881.61,356.27 881.14,356.07 880.65,355.83 880.15,355.52 879.63,355.16 879.09,354.72 878.52,354.2 877.92,353.59 877.29,352.87 876.61,352.04 875.9,351.08 875.14,349.97 874.33,348.7 873.46,347.24 872.53,345.56 871.54,343.66 870.47,341.5 869.32,339.05 868.08,336.29 866.75,333.18 865.32,329.69 863.78,325.8 862.11,321.46 860.31,316.64 858.37,311.3" fill="none" stroke="#D3D8E5" stroke-width="1.0" stroke-linejoin="round"/>
<polyline points="903.97,311.3 902.38,315.77 900.9,319.76 899.53,323.32 898.26,326.48 897.08,329.27 895.99,331.74 894.97,333.92 894.03,335.83 893.15,337.49 892.33,338.95 891.57,340.22 890.86,341.32 890.19,342.27 889.57,343.09 888.98,343.8 888.43,344.41 887.91,344.93 887.41,345.37 886.94,345.75 886.5,346.07 886.07,346.33 885.66,346.55 885.26,346.72 884.87,346.86 884.5,346.97 884.13,347.04 883.76,347.09 883.4,347.1 883,347.09 882.59,347.04 882.18,346.97 881.76,346.86 881.33,346.72 880.88,346.55 880.42,346.33 879.95,346.07 879.45,345.75 878.93,345.37 878.38,344.93 877.8,344.41 877.18,343.8 876.53,343.09 875.83,342.27 875.09,341.32 874.29,340.22 873.44,338.95 872.53,337.49 871.55,335.83 870.5,333.92 869.36,331.74 868.14,329.27 866.83,326.48 865.42,323.32 863.89,319.76 862.24,315.77 860.46,311.3" fill="none" stroke="#D3D8E5" stroke-width="1.0" stroke-linejoin="round"/>
<polyline points="901.61,311.3 900.19,314.78 898.89,317.86 897.67,320.57 896.55,322.96 895.51,325.05 894.54,326.88 893.64,328.47 892.81,329.86 892.03,331.07 891.3,332.11 890.63,333.01 890,333.79 889.41,334.46 888.86,335.03 888.34,335.53 887.85,335.95 887.39,336.31 886.95,336.62 886.54,336.88 886.14,337.09 885.76,337.27 885.4,337.42 885.05,337.54 884.7,337.64 884.37,337.71 884.04,337.76 883.72,337.79 883.4,337.8 883.04,337.79 882.68,337.76 882.32,337.71 881.95,337.64 881.56,337.54 881.17,337.42 880.77,337.27 880.35,337.09 879.9,336.88 879.44,336.62 878.96,336.31 878.44,335.95 877.9,335.53 877.32,335.03 876.7,334.46 876.04,333.79 875.34,333.01 874.59,332.11 873.78,331.07 872.91,329.86 871.98,328.47 870.98,326.88 869.9,325.05 868.74,322.96 867.49,320.57 866.14,317.86 864.68,314.78 863.1,311.3" fill="none" stroke="#D3D8E5" stroke-width="1.0" stroke-linejoin="round"/>
<polyline points="898.02,311.3 896.88,313.53 895.83,315.47 894.86,317.17 893.96,318.64 893.12,319.92 892.35,321.03 891.62,321.98 890.95,322.81 890.33,323.52 889.75,324.13 889.2,324.66 888.7,325.11 888.22,325.5 887.78,325.83 887.36,326.11 886.97,326.35 886.6,326.56 886.25,326.73 885.92,326.88 885.6,327 885.3,327.1 885,327.19 884.72,327.26 884.45,327.31 884.18,327.35 883.92,327.38 883.66,327.39 883.4,327.4 883.11,327.39 882.82,327.38 882.53,327.35 882.23,327.31 881.93,327.26 881.61,327.19 881.29,327.1 880.95,327 880.59,326.88 880.22,326.73 879.83,326.56 879.42,326.35 878.98,326.11 878.52,325.83 878.02,325.5 877.49,325.11 876.93,324.66 876.32,324.13 875.68,323.52 874.98,322.81 874.23,321.98 873.43,321.03 872.56,319.92 871.63,318.64 870.62,317.17 869.54,315.47 868.37,313.53 867.1,311.3" fill="none" stroke="#D3D8E5" stroke-width="1.0" stroke-linejoin="round"/>
<polyline points="893,311.3 892.26,312.26 891.57,313.08 890.93,313.79 890.34,314.4 889.79,314.92 889.28,315.37 888.8,315.76 888.36,316.09 887.95,316.38 887.57,316.62 887.21,316.83 886.88,317.01 886.57,317.16 886.28,317.29 886,317.4 885.75,317.49 885.5,317.57 885.27,317.64 885.05,317.7 884.85,317.75 884.65,317.79 884.45,317.82 884.27,317.84 884.09,317.86 883.91,317.88 883.74,317.89 883.57,317.9 883.4,317.9 883.21,317.9 883.02,317.89 882.83,317.88 882.63,317.86 882.43,317.84 882.23,317.82 882.01,317.79 881.79,317.75 881.56,317.7 881.31,317.64 881.06,317.57 880.78,317.49 880.5,317.4 880.19,317.29 879.87,317.16 879.52,317.01 879.15,316.83 878.75,316.62 878.33,316.38 877.87,316.09 877.38,315.76 876.85,315.37 876.28,314.92 875.67,314.4 875.01,313.79 874.29,313.08 873.53,312.26 872.7,311.3" fill="none" stroke="#D3D8E5" stroke-width="1.0" stroke-linejoin="round"/>
<polyline points="971.19,487.4 968.78,479.94 966.55,473.08 964.48,466.78 962.56,461.01 960.78,455.71 959.13,450.87 957.59,446.45 956.16,442.42 954.84,438.75 953.6,435.42 952.45,432.41 951.37,429.68 950.36,427.23 949.42,425.04 948.53,423.07 947.7,421.33 946.91,419.79 946.16,418.43 945.45,417.25 944.78,416.23 944.13,415.36 943.51,414.62 942.91,414.02 942.33,413.53 941.76,413.17 941.2,412.91 940.65,412.75 940.1,412.7 939.65,412.75 939.21,412.91 938.75,413.17 938.29,413.53 937.82,414.02 937.33,414.62 936.82,415.36 936.3,416.23 935.75,417.25 935.17,418.43 934.57,419.79 933.93,421.33 933.25,423.07 932.53,425.04 931.76,427.23 930.94,429.68 930.07,432.41 929.13,435.42 928.13,438.75 927.05,442.42 925.89,446.45 924.64,450.87 923.3,455.71 921.85,461.01 920.29,466.78 918.61,473.08 916.8,479.94 914.84,487.4" fill="none" stroke="#D3D8E5" stroke-width="1.0" stroke-linejoin="round"/>
<polyline points="970.13,487.4 967.8,480.46 965.64,474.11 963.64,468.32 961.79,463.05 960.07,458.26 958.48,453.91 956.99,449.98 955.61,446.44 954.33,443.25 953.14,440.38 952.02,437.83 950.98,435.55 950.01,433.52 949.1,431.74 948.24,430.16 947.44,428.78 946.68,427.58 945.96,426.54 945.27,425.64 944.62,424.87 944,424.23 943.4,423.69 942.82,423.25 942.25,422.9 941.7,422.63 941.16,422.45 940.63,422.34 940.1,422.3 939.67,422.34 939.24,422.45 938.8,422.63 938.35,422.9 937.89,423.25 937.42,423.69 936.94,424.23 936.43,424.87 935.9,425.64 935.34,426.54 934.76,427.58 934.14,428.78 933.48,430.16 932.79,431.74 932.05,433.52 931.26,435.55 930.41,437.83 929.51,440.38 928.54,443.25 927.49,446.44 926.37,449.98 925.17,453.91 923.87,458.26 922.48,463.05 920.97,468.32 919.35,474.11 917.59,480.46 915.7,487.4" fill="none" stroke="#D3D8E5" stroke-width="1.0" stroke-linejoin="round"/>
<polyline points="968.59,487.4 966.38,481.17 964.33,475.53 962.44,470.42 960.68,465.81 959.05,461.65 957.53,457.93 956.13,454.6 954.82,451.62 953.6,448.98 952.47,446.64 951.41,444.57 950.42,442.75 949.5,441.15 948.64,439.76 947.82,438.54 947.06,437.49 946.34,436.58 945.65,435.8 945.01,435.13 944.39,434.57 943.8,434.09 943.23,433.7 942.68,433.38 942.14,433.13 941.62,432.94 941.11,432.81 940.6,432.73 940.1,432.7 939.69,432.73 939.28,432.81 938.86,432.94 938.44,433.13 938.01,433.38 937.56,433.7 937.1,434.09 936.62,434.57 936.11,435.13 935.59,435.8 935.03,436.58 934.45,437.49 933.82,438.54 933.16,439.76 932.46,441.15 931.71,442.75 930.91,444.57 930.05,446.64 929.13,448.98 928.14,451.62 927.08,454.6 925.94,457.93 924.71,461.65 923.38,465.81 921.95,470.42 920.41,475.53 918.75,481.17 916.95,487.4" fill="none" stroke="#D3D8E5" stroke-width="1.0" stroke-linejoin="round"/>
<polyline points="966.55,487.4 964.5,482.06 962.6,477.25 960.84,472.95 959.21,469.1 957.69,465.67 956.29,462.63 954.98,459.94 953.77,457.56 952.64,455.47 951.58,453.64 950.6,452.04 949.69,450.64 948.83,449.43 948.03,448.38 947.27,447.47 946.56,446.69 945.89,446.02 945.26,445.44 944.66,444.96 944.08,444.55 943.53,444.2 943,443.92 942.49,443.69 942,443.51 941.51,443.37 941.04,443.28 940.57,443.22 940.1,443.2 939.72,443.22 939.34,443.28 938.95,443.37 938.56,443.51 938.16,443.69 937.74,443.92 937.31,444.2 936.87,444.55 936.4,444.96 935.91,445.44 935.39,446.02 934.85,446.69 934.27,447.47 933.66,448.38 933.01,449.43 932.31,450.64 931.57,452.04 930.77,453.64 929.91,455.47 929,457.56 928.01,459.94 926.95,462.63 925.81,465.67 924.58,469.1 923.25,472.95 921.82,477.25 920.27,482.06 918.61,487.4" fill="none" stroke="#D3D8E5" stroke-width="1.0" stroke-linejoin="round"/>
<polyline points="963.94,487.4 962.09,483.08 960.38,479.24 958.79,475.83 957.32,472.82 955.96,470.16 954.69,467.83 953.51,465.78 952.42,463.99 951.4,462.43 950.45,461.08 949.57,459.91 948.74,458.89 947.97,458.01 947.24,457.26 946.56,456.61 945.92,456.05 945.32,455.57 944.75,455.17 944.21,454.83 943.69,454.54 943.19,454.3 942.72,454.1 942.26,453.94 941.81,453.81 941.37,453.72 940.94,453.65 940.52,453.61 940.1,453.6 939.76,453.61 939.41,453.65 939.07,453.72 938.71,453.81 938.35,453.94 937.97,454.1 937.59,454.3 937.18,454.54 936.76,454.83 936.32,455.17 935.86,455.57 935.37,456.05 934.85,456.61 934.3,457.26 933.71,458.01 933.08,458.89 932.41,459.91 931.69,461.08 930.92,462.43 930.09,463.99 929.2,465.78 928.25,467.83 927.22,470.16 926.11,472.82 924.91,475.83 923.62,479.24 922.23,483.08 920.73,487.4" fill="none" stroke="#D3D8E5" stroke-width="1.0" stroke-linejoin="round"/>
<polyline points="960.47,487.4 958.89,484.26 957.43,481.51 956.07,479.09 954.81,476.97 953.65,475.13 952.57,473.52 951.56,472.13 950.62,470.92 949.75,469.87 948.94,468.97 948.19,468.19 947.48,467.52 946.82,466.95 946.2,466.45 945.62,466.03 945.08,465.67 944.56,465.37 944.07,465.11 943.61,464.88 943.17,464.7 942.74,464.55 942.34,464.42 941.94,464.32 941.56,464.24 941.19,464.18 940.82,464.13 940.46,464.11 940.1,464.1 939.81,464.11 939.51,464.13 939.22,464.18 938.91,464.24 938.6,464.32 938.28,464.42 937.95,464.55 937.61,464.7 937.25,464.88 936.87,465.11 936.48,465.37 936.06,465.67 935.61,466.03 935.14,466.45 934.64,466.95 934.1,467.52 933.53,468.19 932.91,468.97 932.26,469.87 931.55,470.92 930.79,472.13 929.97,473.52 929.09,475.13 928.14,476.97 927.12,479.09 926.02,481.51 924.83,484.26 923.55,487.4" fill="none" stroke="#D3D8E5" stroke-width="1.0" stroke-linejoin="round"/>
<polyline points="954.61,487.4 953.48,485.82 952.44,484.45 951.48,483.27 950.58,482.25 949.75,481.36 948.98,480.6 948.26,479.95 947.6,479.39 946.98,478.9 946.4,478.49 945.86,478.14 945.36,477.83 944.89,477.57 944.45,477.35 944.03,477.16 943.64,477 943.28,476.86 942.93,476.75 942.6,476.65 942.28,476.57 941.98,476.5 941.69,476.44 941.41,476.4 941.14,476.36 940.87,476.33 940.61,476.31 940.36,476.3 940.1,476.3 939.89,476.3 939.68,476.31 939.47,476.33 939.26,476.36 939.03,476.4 938.81,476.44 938.57,476.5 938.33,476.57 938.07,476.65 937.8,476.75 937.52,476.86 937.22,477 936.9,477.16 936.57,477.35 936.21,477.57 935.83,477.83 935.42,478.14 934.98,478.49 934.51,478.9 934.01,479.39 933.47,479.95 932.89,480.6 932.26,481.36 931.58,482.25 930.86,483.27 930.07,484.45 929.23,485.82 928.31,487.4" fill="none" stroke="#D3D8E5" stroke-width="1.0" stroke-linejoin="round"/>
<polyline points="945.74,487.4 945.3,487.16 944.9,486.96 944.52,486.79 944.17,486.64 943.85,486.51 943.55,486.4 943.27,486.31 943.01,486.23 942.77,486.16 942.55,486.1 942.34,486.05 942.14,486.01 941.96,485.98 941.79,485.94 941.63,485.92 941.48,485.9 941.33,485.88 941.2,485.86 941.07,485.85 940.95,485.84 940.83,485.83 940.72,485.82 940.61,485.81 940.5,485.81 940.4,485.8 940.3,485.8 940.2,485.8 940.1,485.8 940.02,485.8 939.94,485.8 939.86,485.8 939.77,485.81 939.69,485.81 939.6,485.82 939.51,485.83 939.41,485.84 939.31,485.85 939.21,485.86 939.1,485.88 938.98,485.9 938.86,485.92 938.73,485.94 938.59,485.98 938.44,486.01 938.28,486.05 938.11,486.1 937.93,486.16 937.73,486.23 937.52,486.31 937.3,486.4 937.05,486.51 936.79,486.64 936.51,486.79 936.2,486.96 935.87,487.16 935.52,487.4" fill="none" stroke="#D3D8E5" stroke-width="1.0" stroke-linejoin="round"/>
<polyline points="910.74,487.4 908.62,480.17 906.66,473.54 904.84,467.47 903.15,461.92 901.59,456.86 900.13,452.25 898.78,448.05 897.53,444.24 896.36,440.8 895.27,437.69 894.26,434.89 893.31,432.38 892.42,430.14 891.59,428.14 890.81,426.37 890.08,424.81 889.39,423.44 888.73,422.25 888.11,421.21 887.51,420.32 886.95,419.57 886.4,418.94 885.87,418.42 885.36,418.01 884.86,417.69 884.37,417.47 883.88,417.34 883.4,417.3 882.87,417.34 882.34,417.47 881.8,417.69 881.26,418.01 880.7,418.42 880.12,418.94 879.52,419.57 878.9,420.32 878.25,421.21 877.57,422.25 876.86,423.44 876.1,424.81 875.3,426.37 874.44,428.14 873.54,430.14 872.57,432.38 871.53,434.89 870.42,437.69 869.23,440.8 867.96,444.24 866.59,448.05 865.11,452.25 863.52,456.86 861.81,461.92 859.97,467.47 857.98,473.54 855.83,480.17 853.51,487.4" fill="none" stroke="#D3D8E5" stroke-width="1.0" stroke-linejoin="round"/>
<polyline points="909.75,487.4 907.71,480.7 905.82,474.6 904.06,469.04 902.44,464 900.93,459.43 899.53,455.3 898.23,451.58 897.02,448.24 895.89,445.25 894.84,442.58 893.86,440.2 892.95,438.09 892.1,436.23 891.3,434.59 890.55,433.16 889.84,431.9 889.17,430.82 888.54,429.88 887.94,429.07 887.37,428.39 886.82,427.81 886.29,427.33 885.78,426.94 885.29,426.63 884.81,426.39 884.33,426.23 883.87,426.13 883.4,426.1 882.89,426.13 882.38,426.23 881.86,426.39 881.34,426.63 880.8,426.94 880.24,427.33 879.66,427.81 879.06,428.39 878.44,429.07 877.78,429.88 877.09,430.82 876.36,431.9 875.59,433.16 874.77,434.59 873.89,436.23 872.96,438.09 871.96,440.2 870.89,442.58 869.75,445.25 868.52,448.24 867.19,451.58 865.77,455.3 864.24,459.43 862.59,464 860.81,469.04 858.9,474.6 856.83,480.7 854.59,487.4" fill="none" stroke="#D3D8E5" stroke-width="1.0" stroke-linejoin="round"/>
<polyline points="908.38,487.4 906.44,481.4 904.65,475.97 902.99,471.08 901.44,466.67 900.01,462.71 898.69,459.17 897.45,456.01 896.31,453.2 895.24,450.71 894.25,448.51 893.32,446.58 892.45,444.88 891.64,443.39 890.89,442.1 890.17,440.97 889.5,440 888.87,439.16 888.27,438.44 887.7,437.83 887.16,437.31 886.64,436.88 886.14,436.52 885.66,436.22 885.19,435.99 884.73,435.82 884.28,435.7 883.84,435.62 883.4,435.6 882.92,435.62 882.43,435.7 881.94,435.82 881.44,435.99 880.93,436.22 880.4,436.52 879.86,436.88 879.29,437.31 878.7,437.83 878.08,438.44 877.42,439.16 876.73,440 876,440.97 875.22,442.1 874.39,443.39 873.5,444.88 872.56,446.58 871.54,448.51 870.46,450.71 869.29,453.2 868.04,456.01 866.69,459.17 865.24,462.71 863.68,466.67 861.99,471.08 860.17,475.97 858.21,481.4 856.1,487.4" fill="none" stroke="#D3D8E5" stroke-width="1.0" stroke-linejoin="round"/>
<polyline points="906.49,487.4 904.7,482.3 903.04,477.72 901.5,473.63 900.08,469.99 898.76,466.75 897.53,463.88 896.39,461.35 895.33,459.12 894.34,457.17 893.43,455.46 892.57,453.97 891.77,452.67 891.02,451.54 890.32,450.57 889.66,449.73 889.04,449.01 888.46,448.39 887.9,447.86 887.38,447.41 886.87,447.04 886.4,446.72 885.93,446.46 885.49,446.25 885.06,446.08 884.63,445.96 884.22,445.87 883.81,445.82 883.4,445.8 882.95,445.82 882.51,445.87 882.05,445.96 881.59,446.08 881.12,446.25 880.63,446.46 880.13,446.72 879.6,447.04 879.05,447.41 878.48,447.86 877.87,448.39 877.23,449.01 876.56,449.73 875.84,450.57 875.07,451.54 874.25,452.67 873.38,453.97 872.44,455.46 871.44,457.17 870.36,459.12 869.2,461.35 867.95,463.88 866.61,466.75 865.17,469.99 863.61,473.63 861.93,477.72 860.12,482.3 858.16,487.4" fill="none" stroke="#D3D8E5" stroke-width="1.0" stroke-linejoin="round"/>
<polyline points="903.83,487.4 902.25,483.43 900.78,479.9 899.42,476.79 898.16,474.04 896.99,471.63 895.9,469.52 894.9,467.67 893.96,466.06 893.09,464.66 892.27,463.45 891.51,462.4 890.81,461.49 890.14,460.71 889.52,460.04 888.94,459.46 888.39,458.97 887.87,458.55 887.38,458.19 886.92,457.88 886.48,457.63 886.05,457.42 885.64,457.24 885.25,457.1 884.86,456.99 884.49,456.9 884.12,456.85 883.76,456.81 883.4,456.8 883.01,456.81 882.61,456.85 882.21,456.9 881.8,456.99 881.38,457.1 880.95,457.24 880.5,457.42 880.04,457.63 879.55,457.88 879.04,458.19 878.51,458.55 877.94,458.97 877.34,459.46 876.71,460.04 876.03,460.71 875.3,461.49 874.53,462.4 873.7,463.45 872.81,464.66 871.86,466.06 870.83,467.67 869.73,469.52 868.54,471.63 867.26,474.04 865.89,476.79 864.4,479.9 862.79,483.43 861.06,487.4" fill="none" stroke="#D3D8E5" stroke-width="1.0" stroke-linejoin="round"/>
<polyline points="901.06,487.4 899.69,484.44 898.42,481.85 897.25,479.58 896.16,477.6 895.15,475.87 894.21,474.37 893.34,473.06 892.53,471.94 891.77,470.96 891.07,470.12 890.41,469.4 889.8,468.78 889.23,468.24 888.69,467.78 888.19,467.39 887.71,467.06 887.27,466.77 886.84,466.53 886.44,466.33 886.06,466.16 885.69,466.01 885.34,465.9 885,465.8 884.67,465.73 884.34,465.67 884.03,465.63 883.71,465.61 883.4,465.6 883.06,465.61 882.72,465.63 882.37,465.67 882.02,465.73 881.65,465.8 881.28,465.9 880.9,466.01 880.49,466.16 880.08,466.33 879.64,466.53 879.17,466.77 878.68,467.06 878.17,467.39 877.61,467.78 877.03,468.24 876.4,468.78 875.73,469.4 875.02,470.12 874.25,470.96 873.42,471.94 872.54,473.06 871.59,474.37 870.56,475.87 869.45,477.6 868.26,479.58 866.98,481.85 865.59,484.44 864.09,487.4" fill="none" stroke="#D3D8E5" stroke-width="1.0" stroke-linejoin="round"/>
<polyline points="896.63,487.4 895.6,485.75 894.65,484.33 893.77,483.09 892.95,482.02 892.2,481.1 891.49,480.3 890.84,479.62 890.23,479.03 889.67,478.53 889.14,478.09 888.65,477.72 888.19,477.4 887.77,477.13 887.36,476.9 886.99,476.7 886.63,476.53 886.3,476.39 885.98,476.27 885.68,476.16 885.39,476.08 885.12,476.01 884.85,475.95 884.6,475.9 884.35,475.86 884.11,475.84 883.87,475.82 883.63,475.8 883.4,475.8 883.14,475.8 882.89,475.82 882.63,475.84 882.36,475.86 882.09,475.9 881.81,475.95 881.52,476.01 881.22,476.08 880.91,476.16 880.58,476.27 880.23,476.39 879.87,476.53 879.48,476.7 879.07,476.9 878.63,477.13 878.16,477.4 877.66,477.72 877.12,478.09 876.55,478.53 875.93,479.03 875.27,479.62 874.55,480.3 873.78,481.1 872.96,482.02 872.06,483.09 871.1,484.33 870.06,485.75 868.94,487.4" fill="none" stroke="#D3D8E5" stroke-width="1.0" stroke-linejoin="round"/>
<polyline points="889.16,487.4 888.71,487.09 888.3,486.82 887.92,486.6 887.56,486.4 887.23,486.23 886.92,486.09 886.64,485.97 886.38,485.86 886.13,485.78 885.9,485.7 885.69,485.63 885.49,485.58 885.3,485.53 885.13,485.49 884.96,485.46 884.81,485.43 884.66,485.4 884.52,485.38 884.39,485.36 884.27,485.35 884.15,485.34 884.03,485.33 883.92,485.32 883.81,485.31 883.71,485.31 883.6,485.3 883.5,485.3 883.4,485.3 883.29,485.3 883.18,485.3 883.06,485.31 882.95,485.31 882.83,485.32 882.71,485.33 882.58,485.34 882.45,485.35 882.32,485.36 882.17,485.38 882.02,485.4 881.86,485.43 881.69,485.46 881.51,485.49 881.32,485.53 881.12,485.58 880.9,485.63 880.67,485.7 880.42,485.78 880.15,485.86 879.86,485.97 879.55,486.09 879.21,486.23 878.85,486.4 878.46,486.6 878.04,486.82 877.59,487.09 877.1,487.4" fill="none" stroke="#D3D8E5" stroke-width="1.0" stroke-linejoin="round"/>
<linearGradient id="g11" gradientUnits="userSpaceOnUse" x1="0" y1="389.3" x2="0" y2="367.3"><stop offset="0" stop-color="#D65E5E"/><stop offset="1" stop-color="#D3D8E5"/></linearGradient>
<polyline points="940.1,389.6 940.63,389.53 941.16,389.31 941.69,388.95 942.24,388.45 942.8,387.79 943.37,386.99 943.97,386.03 944.59,384.92 945.24,383.64 945.91,382.19 946.63,380.56 947.39,378.75 948.19,376.74 949.04,374.53 949.94,372.09 950.91,369.41 951.94,366.49 953.05,363.3 954.23,359.82 955.51,356.03 956.88,351.9 958.35,347.42 959.93,342.55 961.64,337.27 963.48,331.54 965.47,325.33 967.61,318.6 969.92,311.3" fill="none" stroke="url(#g11)" stroke-width="1.2" stroke-linejoin="round"/>
<linearGradient id="g12" gradientUnits="userSpaceOnUse" x1="0" y1="379.3" x2="0" y2="355.3"><stop offset="0" stop-color="#5670D6"/><stop offset="1" stop-color="#D3D8E5"/></linearGradient>
<polyline points="883.4,379.8 882.9,379.75 882.4,379.62 881.89,379.38 881.37,379.05 880.84,378.62 880.29,378.08 879.73,377.42 879.14,376.64 878.52,375.72 877.88,374.65 877.2,373.43 876.48,372.04 875.72,370.46 874.91,368.67 874.05,366.67 873.13,364.44 872.15,361.95 871.1,359.19 869.98,356.14 868.77,352.78 867.47,349.07 866.07,345.01 864.56,340.55 862.94,335.67 861.19,330.35 859.31,324.53 857.27,318.2 855.08,311.3" fill="none" stroke="url(#g12)" stroke-width="1.2" stroke-linejoin="round"/>
<linearGradient id="g13" gradientUnits="userSpaceOnUse" x1="0" y1="403.3" x2="0" y2="425.3"><stop offset="0" stop-color="#5670D6"/><stop offset="1" stop-color="#D3D8E5"/></linearGradient>
<polyline points="940.1,403.5 940.65,403.58 941.21,403.81 941.77,404.19 942.35,404.73 942.93,405.42 943.54,406.28 944.17,407.3 944.82,408.49 945.5,409.85 946.21,411.4 946.96,413.13 947.76,415.07 948.6,417.22 949.49,419.59 950.44,422.2 951.46,425.06 952.55,428.2 953.71,431.62 954.95,435.35 956.29,439.41 957.73,443.84 959.28,448.64 960.95,453.86 962.74,459.53 964.67,465.68 966.76,472.34 969.01,479.57 971.44,487.4" fill="none" stroke="url(#g13)" stroke-width="1.2" stroke-linejoin="round"/>
<linearGradient id="g14" gradientUnits="userSpaceOnUse" x1="0" y1="412.3" x2="0" y2="435.3"><stop offset="0" stop-color="#D65E5E"/><stop offset="1" stop-color="#D3D8E5"/></linearGradient>
<polyline points="883.4,412.6 882.86,412.65 882.33,412.81 881.78,413.07 881.22,413.44 880.66,413.92 880.07,414.53 879.46,415.27 878.83,416.14 878.17,417.17 877.48,418.35 876.75,419.71 875.98,421.26 875.17,423 874.3,424.97 873.38,427.17 872.4,429.63 871.35,432.36 870.22,435.38 869.01,438.71 867.72,442.38 866.32,446.42 864.82,450.85 863.21,455.69 861.47,460.99 859.6,466.77 857.58,473.07 855.4,479.93 853.04,487.4" fill="none" stroke="url(#g14)" stroke-width="1.2" stroke-linejoin="round"/>
<line x1="824.4" y1="399.7" x2="1000.6" y2="399.7" stroke="#231815" stroke-width="2" stroke-dasharray="7.3 7.42" stroke-dashoffset="14.42"/>
<path d="M1000.7,439.4 C996.52,437.62 984.67,432.88 975.6,428.7 C966.53,424.52 955.45,419.15 946.3,414.3 C937.15,409.45 928.18,403.77 920.7,399.6 C913.22,395.43 907.03,392.35 901.4,389.3 C895.77,386.25 889.9,382.88 886.9,381.3 C883.9,379.72 883.98,380.05 883.4,379.8" fill="none" stroke="#5670D6" stroke-width="1.25" stroke-linecap="round"/>
<path d="M940.1,403.5 C939.23,403.77 936.6,404.27 934.9,405.1 C933.2,405.93 935.13,405.87 929.9,408.5 C924.67,411.13 912.78,416.75 903.5,420.9 C894.22,425.05 881.88,430.37 874.2,433.4 C866.52,436.43 862.63,437.38 857.4,439.1 C852.17,440.82 846.47,443.02 842.8,443.7 C839.13,444.38 838.48,443.88 835.4,443.2 C832.32,442.52 826.15,440.2 824.3,439.6" fill="none" stroke="#5670D6" stroke-width="1.25" stroke-linecap="round"/>
<path d="M1000.7,451.7 C997.73,452.32 989.53,454.05 982.9,455.4 C976.27,456.75 967,458.83 960.9,459.8 C954.8,460.77 952.3,460.87 946.3,461.2 C940.3,461.53 932.52,462.03 924.9,461.8 C917.28,461.57 907.1,460.63 900.6,459.8 C894.1,458.97 890.78,457.67 885.9,456.8 C881.02,455.93 876.05,455.63 871.3,454.6 C866.55,453.57 862.47,451.73 857.4,450.6 C852.33,449.47 846.42,447.65 840.9,447.8 C835.38,447.95 827.07,450.88 824.3,451.5" fill="none" stroke="#5670D6" stroke-width="1.25" stroke-linecap="round"/>
<path d="M940.1,389.6 C939.23,389.98 938.32,389.97 934.9,391.9 C931.48,393.83 926.53,397.22 919.6,401.2 C912.67,405.18 901.35,411.53 893.3,415.8 C885.25,420.07 878.53,423.13 871.3,426.8 C864.07,430.47 857.73,434.22 849.9,437.8 C842.07,441.38 828.57,446.55 824.3,448.3" fill="none" stroke="#D65E5E" stroke-width="1.25" stroke-linecap="round"/>
<path d="M1000.7,448.5 C998.23,449.15 991.3,452.23 985.9,452.4 C980.5,452.57 974.9,451.45 968.3,449.5 C961.7,447.55 953.53,443.87 946.3,440.7 C939.07,437.53 932.03,433.67 924.9,430.5 C917.77,427.33 908.77,424.15 903.5,421.7 C898.23,419.25 895.98,417.23 893.3,415.8 C890.62,414.37 889.05,413.63 887.4,413.1 C885.75,412.57 884.07,412.68 883.4,412.6" fill="none" stroke="#D65E5E" stroke-width="1.25" stroke-linecap="round"/>
<path d="M1000.7,459.9 C998.23,459.38 991.3,456.95 985.9,456.8 C980.5,456.65 973.68,458.02 968.3,459 C962.92,459.98 958.5,461.6 953.6,462.7 C948.7,463.8 943.68,464.87 938.9,465.6 C934.12,466.33 930.07,466.48 924.9,467.1 C919.73,467.72 914.4,469.18 907.9,469.3 C901.4,469.42 893.23,468.17 885.9,467.8 C878.57,467.43 870.48,467.52 863.9,467.1 C857.32,466.68 853,466.45 846.4,465.3 C839.8,464.15 827.98,461.05 824.3,460.2" fill="none" stroke="#D65E5E" stroke-width="1.25" stroke-linecap="round"/>
</g>
<line x1="912.5" y1="311.3" x2="912.5" y2="314.3" stroke="#2e2e2e" stroke-width="1.6" />
<line x1="912.5" y1="487.4" x2="912.5" y2="484.4" stroke="#2e2e2e" stroke-width="1.6" />
<line x1="824.4" y1="399.7" x2="827.4" y2="399.7" stroke="#2e2e2e" stroke-width="1.6" />
<line x1="1000.6" y1="399.7" x2="997.6" y2="399.7" stroke="#2e2e2e" stroke-width="1.6" />
<rect x="824.4" y="311.3" width="176.2" height="176.1" fill="none" stroke="#2e2e2e" stroke-width="2.0"/>
<text x="818.5" y="318.8" font-size="22.8" text-anchor="end" fill="#231815" font-family="Liberation Sans" >0.5</text>
<text x="815.5" y="405.3" font-size="22.8" text-anchor="end" fill="#231815" font-family="Liberation Sans" >0</text>
<text x="815.5" y="493.2" font-size="22.8" text-anchor="end" fill="#231815" font-family="Liberation Sans" >-0.5</text>
<text x="825.8" y="510" font-size="22.8" text-anchor="middle" fill="#231815" font-family="Liberation Sans" >0</text>
<text x="912.3" y="510" font-size="22.8" text-anchor="middle" fill="#231815" font-family="Liberation Sans" >&#960;</text>
<text x="998.9" y="510" font-size="22.8" text-anchor="middle" fill="#231815" font-family="Liberation Sans" >2&#960;</text>
<text x="874.5" y="535.8" font-size="25.5" letter-spacing="0.55" fill="#231815" font-family="Liberation Sans">k<tspan font-size="15" dy="1">x</tspan><tspan dy="-1" dx="3.5">(1/a)</tspan></text>
</svg>
</body></html>
